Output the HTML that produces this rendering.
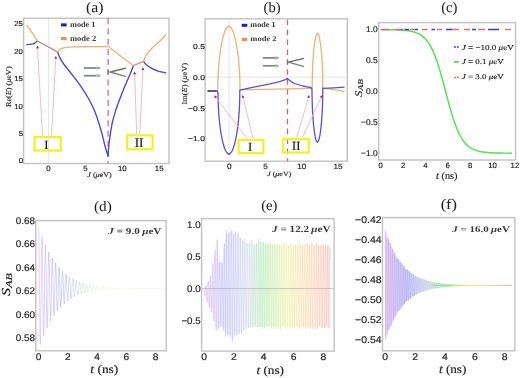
<!DOCTYPE html>
<html><head><meta charset="utf-8"><title>figure</title>
<style>html,body{margin:0;padding:0;background:#fff;width:520px;height:378px;overflow:hidden}svg{display:block}</style>
</head><body>
<svg width="520" height="378" viewBox="0 0 520 378" text-rendering="geometricPrecision"><rect width="520" height="378" fill="#ffffff"/><defs><linearGradient id="gd" gradientUnits="userSpaceOnUse" x1="38.6" y1="0" x2="164.38" y2="0"><stop offset="0.000" stop-color="#b878e0" stop-opacity="1"/><stop offset="0.174" stop-color="#7878f0" stop-opacity="1"/><stop offset="0.302" stop-color="#90a0c8" stop-opacity="0.85"/><stop offset="0.419" stop-color="#70d070" stop-opacity="0.6"/><stop offset="0.535" stop-color="#a0e060" stop-opacity="0.5"/><stop offset="0.651" stop-color="#e0e050" stop-opacity="0.5"/><stop offset="0.814" stop-color="#f0b060" stop-opacity="0.5"/><stop offset="1.000" stop-color="#f07070" stop-opacity="0.5"/></linearGradient><linearGradient id="ge" gradientUnits="userSpaceOnUse" x1="203.6" y1="0" x2="332.34" y2="0"><stop offset="0.000" stop-color="#b878e0" stop-opacity="1"/><stop offset="0.174" stop-color="#7878f0" stop-opacity="1"/><stop offset="0.337" stop-color="#a0b0d0" stop-opacity="1"/><stop offset="0.465" stop-color="#60d860" stop-opacity="1"/><stop offset="0.651" stop-color="#e0e050" stop-opacity="1"/><stop offset="0.814" stop-color="#f0b060" stop-opacity="1"/><stop offset="1.000" stop-color="#f07070" stop-opacity="1"/></linearGradient><linearGradient id="gf" gradientUnits="userSpaceOnUse" x1="384.9" y1="0" x2="512.78" y2="0"><stop offset="0.000" stop-color="#b878e0" stop-opacity="1"/><stop offset="0.174" stop-color="#7878f0" stop-opacity="1"/><stop offset="0.337" stop-color="#a0b0d0" stop-opacity="1"/><stop offset="0.465" stop-color="#60d860" stop-opacity="1"/><stop offset="0.651" stop-color="#e0e050" stop-opacity="1"/><stop offset="0.814" stop-color="#f0b060" stop-opacity="1"/><stop offset="1.000" stop-color="#f07070" stop-opacity="1"/></linearGradient><linearGradient id="arrB" x1="0" y1="0" x2="1" y2="0"><stop offset="0" stop-color="#7c7e7e"/><stop offset="0.75" stop-color="#808a90"/><stop offset="1" stop-color="#98aec0"/></linearGradient><linearGradient id="arrG" x1="0" y1="0" x2="1" y2="0"><stop offset="0" stop-color="#7c7e7e"/><stop offset="0.75" stop-color="#828c82"/><stop offset="1" stop-color="#9cba9c"/></linearGradient></defs><line x1="48.4" y1="18.3" x2="48.4" y2="163.5" stroke="#dde5ee" stroke-width="1"/><rect x="23.6" y="18.3" width="145.4" height="145.2" fill="none" stroke="#c2c2c2" stroke-width="1.4"/><line x1="108.1" y1="18.3" x2="108.1" y2="163.5" stroke="#dc4c6a" stroke-width="1.3" stroke-dasharray="6,4.2" stroke-opacity="0.85"/><path d="M26.3,44.6 C26.92,44.57 28.88,44.53 30,44.4 C31.12,44.27 32.08,44.1 33,43.8 C33.92,43.5 34.77,43.07 35.5,42.6 C36.23,42.13 37.08,41.27 37.4,41" fill="none" stroke="#4646d4" stroke-width="1.35" stroke-linejoin="round"/><path d="M57.7,52 C57.85,52.47 58.17,53.73 58.6,54.8 C59.03,55.87 59.45,56.87 60.3,58.4 C61.15,59.93 61.67,61.2 63.7,64 C65.73,66.8 69.58,71.4 72.5,75.2 C75.42,79 78.53,82.92 81.2,86.8 C83.87,90.68 86.32,94.58 88.5,98.5 C90.68,102.42 92.62,106.35 94.3,110.3 C95.98,114.25 97.3,118.22 98.6,122.2 C99.9,126.18 101.03,130.23 102.1,134.2 C103.17,138.17 104.15,142.82 105,146 C105.85,149.18 106.7,151.57 107.2,153.3 C107.7,155.03 107.87,155.88 108,156.4" fill="none" stroke="#4646d4" stroke-width="1.35" stroke-linejoin="round"/><path d="M108,156.4 C108.13,154.67 108.42,149.67 108.8,146 C109.18,142.33 109.72,138.28 110.3,134.4 C110.88,130.52 111.43,126.58 112.3,122.7 C113.17,118.82 114.28,114.97 115.5,111.1 C116.72,107.23 118.15,103.38 119.6,99.5 C121.05,95.62 122.6,91.68 124.2,87.8 C125.8,83.92 127.97,79.07 129.2,76.2 C130.43,73.33 130.92,72.35 131.6,70.6 C132.28,68.85 133.02,66.52 133.3,65.7" fill="none" stroke="#4646d4" stroke-width="1.35" stroke-linejoin="round"/><path d="M143.6,61.4 C144.03,61.95 144.77,63.48 146.2,64.7 C147.63,65.92 150.1,67.6 152.2,68.7 C154.3,69.8 156.47,70.6 158.8,71.3 C161.13,72 164.97,72.63 166.2,72.9" fill="none" stroke="#4646d4" stroke-width="1.35" stroke-linejoin="round"/><path d="M26.3,25 C26.83,25.67 28.38,27.47 29.5,29 C30.62,30.53 31.68,32.2 33,34.2 C34.32,36.2 36.67,39.87 37.4,41" fill="none" stroke="#f0b070" stroke-width="1.35" stroke-linejoin="round"/><path d="M57.7,52 C57.92,51.68 58.45,50.65 59,50.1 C59.55,49.55 60.25,49.07 61,48.7 C61.75,48.33 62.58,48.12 63.5,47.9 C64.42,47.68 64.58,47.57 66.5,47.4 C68.42,47.23 71.08,47.02 75,46.9 C78.92,46.78 84.45,46.77 90,46.7 C95.55,46.63 105.25,46.53 108.3,46.5" fill="none" stroke="#f0b070" stroke-width="1.35" stroke-linejoin="round"/><path d="M108.3,46.5 L133.3,65.7" fill="none" stroke="#f0b070" stroke-width="1.35" stroke-linejoin="round"/><path d="M143.6,61.4 C143.93,60.55 144.72,57.93 145.6,56.3 C146.48,54.67 147.37,53.4 148.9,51.6 C150.43,49.8 152.7,47.52 154.8,45.5 C156.9,43.48 159.6,41.37 161.5,39.5 C163.4,37.63 165.42,35.17 166.2,34.3" fill="none" stroke="#f0b070" stroke-width="1.35" stroke-linejoin="round"/><path d="M37.4,41 L57.7,52" stroke="#a88c74" stroke-width="1.4" fill="none"/><path d="M133.3,65.7 L143.6,61.4" stroke="#cc9a70" stroke-width="1.4" fill="none"/><rect x="61" y="23.4" width="5.6" height="3.0" fill="#1c1cc8"/><rect x="61" y="37.1" width="5.6" height="3.0" fill="#e8904c"/><rect x="83.8" y="67.15" width="12.8" height="1.7" fill="#7e8282"/><path d="M96.4,66.5 L100,66.9 L100.8,68 L100,69.1 L96.4,69.5 Z" fill="#98acbc"/><rect x="83.8" y="74.85" width="12.8" height="1.7" fill="#7e8282"/><path d="M96.4,74.2 L100,74.6 L100.8,75.7 L100,76.8 L96.4,77.2 Z" fill="#a4bca4"/><line x1="110.2" y1="72" x2="125.4" y2="68.3" stroke="#6e7272" stroke-width="1.4" stroke-linecap="round"/><line x1="110.2" y1="72" x2="125.4" y2="76.3" stroke="#748474" stroke-width="1.4" stroke-linecap="round"/><line x1="108.1" y1="69.8" x2="108.1" y2="74.5" stroke="#806868" stroke-width="1.2"/><line x1="37.56" y1="48.4" x2="42.5" y2="135.8" stroke="#f2b4bc" stroke-width="0.9"/><path d="M37.4,45.6 L39.06,48.31 L36.06,48.48 Z" fill="#c81830"/><line x1="55.74" y1="58.7" x2="51.4" y2="135.8" stroke="#f2b4bc" stroke-width="0.9"/><path d="M55.9,55.9 L57.24,58.78 L54.24,58.61 Z" fill="#c81830"/><line x1="134.69" y1="74.4" x2="136.7" y2="134.2" stroke="#f2b4bc" stroke-width="0.9"/><path d="M134.6,71.6 L136.19,74.35 L133.19,74.45 Z" fill="#c81830"/><line x1="142.96" y1="70" x2="139.7" y2="134.2" stroke="#f2b4bc" stroke-width="0.9"/><path d="M143.1,67.2 L144.46,70.07 L141.46,69.92 Z" fill="#c81830"/><rect x="34.4" y="136.9" width="26.3" height="13.7" fill="none" stroke="#eef41e" stroke-width="2.2"/><rect x="127" y="135.3" width="25.6" height="13.9" fill="none" stroke="#eef41e" stroke-width="2.2"/><line x1="229.1" y1="18.8" x2="229.1" y2="161.2" stroke="#e8e2ee" stroke-width="1"/><line x1="205.1" y1="77.2" x2="347.3" y2="77.2" stroke="#e4e4e4" stroke-width="1"/><rect x="205.1" y="18.8" width="142.2" height="142.4" fill="none" stroke="#c2c2c2" stroke-width="1.4"/><line x1="287.5" y1="18.8" x2="287.5" y2="161.2" stroke="#c85470" stroke-width="1.3" stroke-dasharray="5.6,4.3" stroke-dashoffset="9" stroke-opacity="0.92"/><path d="M207.6,90.6 L217.7,90.4 L217.81,88.15 L217.83,86.01 L217.86,83.86 L217.91,81.71 L217.97,79.57 L218.05,77.42 L218.14,75.27 L218.24,73.13 L218.36,70.98 L218.5,68.83 L218.65,66.69 L218.81,64.54 L219,62.39 L219.2,60.25 L219.42,58.1 L219.67,55.95 L219.93,53.81 L220.22,51.66 L220.53,49.51 L220.87,47.37 L221.24,45.22 L221.64,43.07 L222.08,40.93 L222.57,38.78 L223.12,36.63 L223.73,34.49 L224.45,32.34 L225.3,30.19 L226.42,28.05 L228.9,25.9 L231.38,28.05 L232.5,30.19 L233.35,32.34 L234.07,34.49 L234.68,36.63 L235.23,38.78 L235.72,40.93 L236.16,43.07 L236.56,45.22 L236.93,47.37 L237.27,49.51 L237.58,51.66 L237.87,53.81 L238.13,55.95 L238.38,58.1 L238.6,60.25 L238.8,62.39 L238.99,64.54 L239.15,66.69 L239.3,68.83 L239.44,70.98 L239.56,73.13 L239.66,75.27 L239.75,77.42 L239.83,79.57 L239.89,81.71 L239.94,83.86 L239.97,86.01 L239.99,88.15 L240,90.3 L240,89.9 L312.2,88.3 L312.2,86.46 L312.21,84.63 L312.23,82.79 L312.25,80.95 L312.28,79.12 L312.32,77.28 L312.36,75.44 L312.41,73.61 L312.47,71.77 L312.53,69.93 L312.6,68.1 L312.68,66.26 L312.77,64.42 L312.87,62.59 L312.98,60.75 L313.09,58.91 L313.22,57.08 L313.35,55.24 L313.5,53.4 L313.66,51.57 L313.84,49.73 L314.03,47.89 L314.24,46.06 L314.48,44.22 L314.74,42.38 L315.03,40.55 L315.37,38.71 L315.78,36.87 L316.32,35.04 L317.5,33.2 L318.68,35.04 L319.22,36.87 L319.63,38.71 L319.97,40.55 L320.26,42.38 L320.52,44.22 L320.76,46.06 L320.97,47.89 L321.16,49.73 L321.34,51.57 L321.5,53.4 L321.65,55.24 L321.78,57.08 L321.91,58.91 L322.02,60.75 L322.13,62.59 L322.23,64.42 L322.32,66.26 L322.4,68.1 L322.47,69.93 L322.53,71.77 L322.59,73.61 L322.64,75.44 L322.68,77.28 L322.72,79.12 L322.75,80.95 L322.77,82.79 L322.79,84.63 L322.8,86.46 L322.8,88.3 L322.8,88.3 L330,89.2 L337,90.2 L344.5,91.4" fill="none" stroke="#f0b070" stroke-width="1.3" stroke-linejoin="round"/><path d="M207.6,91 L217.2,91.1 L218.01,93.21 L218.03,95.32 L218.06,97.43 L218.11,99.54 L218.17,101.65 L218.24,103.76 L218.33,105.87 L218.43,107.98 L218.55,110.09 L218.68,112.2 L218.83,114.31 L219,116.42 L219.18,118.53 L219.38,120.64 L219.6,122.75 L219.83,124.86 L220.09,126.97 L220.37,129.08 L220.68,131.19 L221.01,133.3 L221.37,135.41 L221.77,137.52 L222.21,139.63 L222.69,141.74 L223.22,143.85 L223.83,145.96 L224.53,148.07 L225.37,150.18 L226.46,152.29 L228.9,154.4 L231.34,152.29 L232.43,150.18 L233.27,148.07 L233.97,145.96 L234.58,143.85 L235.11,141.74 L235.59,139.63 L236.03,137.52 L236.43,135.41 L236.79,133.3 L237.12,131.19 L237.43,129.08 L237.71,126.97 L237.97,124.86 L238.2,122.75 L238.42,120.64 L238.62,118.53 L238.8,116.42 L238.97,114.31 L239.12,112.2 L239.25,110.09 L239.37,107.98 L239.47,105.87 L239.56,103.76 L239.63,101.65 L239.69,99.54 L239.74,97.43 L239.77,95.32 L239.79,93.21 L239.8,91.1 L240,90.2 L250,87.9 L260,85.8 L270,83.9 L278.8,81.8 L284,80.2 L286.4,79.2 L287.5,78.4 L288.6,79.6 L291,81.6 L294.7,83.5 L302.6,86 L311.3,87.6 L312,89.62 L312.01,91.44 L312.03,93.26 L312.05,95.08 L312.08,96.9 L312.12,98.72 L312.16,100.54 L312.21,102.36 L312.27,104.18 L312.34,106 L312.41,107.82 L312.49,109.64 L312.58,111.46 L312.68,113.28 L312.79,115.1 L312.91,116.92 L313.04,118.74 L313.18,120.56 L313.33,122.38 L313.49,124.2 L313.67,126.02 L313.87,127.84 L314.08,129.66 L314.32,131.48 L314.59,133.3 L314.89,135.12 L315.23,136.94 L315.65,138.76 L316.19,140.58 L317.4,142.4 L318.61,140.58 L319.15,138.76 L319.57,136.94 L319.91,135.12 L320.21,133.3 L320.48,131.48 L320.72,129.66 L320.93,127.84 L321.13,126.02 L321.31,124.2 L321.47,122.38 L321.62,120.56 L321.76,118.74 L321.89,116.92 L322.01,115.1 L322.12,113.28 L322.22,111.46 L322.31,109.64 L322.39,107.82 L322.46,106 L322.53,104.18 L322.59,102.36 L322.64,100.54 L322.68,98.72 L322.72,96.9 L322.75,95.08 L322.77,93.26 L322.79,91.44 L322.8,89.62 L322.8,87.8 L322.8,88.4 L334,87.8 L344.5,87.2" fill="none" stroke="#5252dc" stroke-width="1.3" stroke-linejoin="round"/><path d="M207.6,91 L216.6,91" stroke="#50507a" stroke-width="1.6"/><rect x="241.7" y="23.8" width="5.6" height="3.0" fill="#1c1cc8"/><rect x="241.7" y="37.9" width="5.6" height="3.0" fill="#e8904c"/><rect x="262.9" y="57.05" width="11.9" height="1.7" fill="#7e8282"/><path d="M274.6,56.4 L278.2,56.8 L279,57.9 L278.2,59 L274.6,59.4 Z" fill="#98acbc"/><rect x="262.9" y="64.95" width="11.9" height="1.7" fill="#7e8282"/><path d="M274.6,64.3 L278.2,64.7 L279,65.8 L278.2,66.9 L274.6,67.3 Z" fill="#a4bca4"/><line x1="288.3" y1="62.1" x2="303.4" y2="58.5" stroke="#6e7272" stroke-width="1.4" stroke-linecap="round"/><line x1="288.3" y1="62.1" x2="303.4" y2="66.4" stroke="#748474" stroke-width="1.4" stroke-linecap="round"/><line x1="287.5" y1="60.6" x2="287.5" y2="63.7" stroke="#806868" stroke-width="1.2"/><line x1="215.99" y1="97.54" x2="247.1" y2="138.8" stroke="#f2b4bc" stroke-width="0.9"/><path d="M214.3,95.3 L217.18,96.63 L214.79,98.44 Z" fill="#c81830"/><line x1="243.16" y1="97.72" x2="253.1" y2="138.8" stroke="#f2b4bc" stroke-width="0.9"/><path d="M242.5,95 L244.62,97.37 L241.7,98.07 Z" fill="#c81830"/><line x1="308.42" y1="97.69" x2="296.7" y2="137.8" stroke="#f2b4bc" stroke-width="0.9"/><path d="M309.2,95 L309.85,98.11 L306.98,97.27 Z" fill="#c81830"/><line x1="321.11" y1="97.53" x2="302.2" y2="137.8" stroke="#f2b4bc" stroke-width="0.9"/><path d="M322.3,95 L322.47,98.17 L319.75,96.9 Z" fill="#c81830"/><rect x="238.6" y="139.9" width="24.8" height="13.3" fill="none" stroke="#eef41e" stroke-width="2.2"/><rect x="283" y="138.9" width="25.7" height="13.7" fill="none" stroke="#eef41e" stroke-width="2.2"/><rect x="378.7" y="22.6" width="136.9" height="137.4" fill="none" stroke="#c2c2c2" stroke-width="1.4"/><path d="M380.6,29.64 L381.71,29.65 L382.81,29.65 L383.92,29.66 L385.02,29.67 L386.13,29.68 L387.23,29.69 L388.34,29.7 L389.45,29.72 L390.55,29.74 L391.66,29.76 L392.76,29.78 L393.87,29.81 L394.97,29.83 L396.08,29.87 L397.18,29.91 L398.29,29.95 L399.4,30.01 L400.5,30.06 L401.61,30.13 L402.71,30.21 L403.82,30.3 L404.92,30.4 L406.03,30.52 L407.14,30.65 L408.24,30.8 L409.35,30.98 L410.45,31.18 L411.56,31.41 L412.66,31.67 L413.77,31.96 L414.87,32.3 L415.98,32.69 L417.09,33.13 L418.19,33.63 L419.3,34.19 L420.4,34.84 L421.51,35.57 L422.61,36.4 L423.72,37.33 L424.83,38.38 L425.93,39.57 L427.04,40.89 L428.14,42.38 L429.25,44.03 L430.35,45.87 L431.46,47.9 L432.56,50.14 L433.67,52.59 L434.78,55.26 L435.88,58.15 L436.99,61.26 L438.09,64.59 L439.2,68.12 L440.3,71.84 L441.41,75.72 L442.52,79.73 L443.62,83.86 L444.73,88.05 L445.83,92.27 L446.94,96.49 L448.04,100.65 L449.15,104.74 L450.25,108.7 L451.36,112.52 L452.47,116.16 L453.57,119.61 L454.68,122.85 L455.78,125.87 L456.89,128.67 L457.99,131.25 L459.1,133.61 L460.21,135.76 L461.31,137.71 L462.42,139.47 L463.52,141.05 L464.63,142.47 L465.73,143.74 L466.84,144.87 L467.94,145.87 L469.05,146.76 L470.16,147.54 L471.26,148.24 L472.37,148.85 L473.47,149.39 L474.58,149.86 L475.68,150.28 L476.79,150.64 L477.9,150.96 L479,151.25 L480.11,151.49 L481.21,151.71 L482.32,151.9 L483.42,152.06 L484.53,152.21 L485.63,152.33 L486.74,152.44 L487.85,152.54 L488.95,152.62 L490.06,152.7 L491.16,152.76 L492.27,152.82 L493.37,152.87 L494.48,152.91 L495.59,152.95 L496.69,152.98 L497.8,153.01 L498.9,153.03 L500.01,153.05 L501.11,153.07 L502.22,153.09 L503.32,153.1 L504.43,153.11 L505.54,153.13 L506.64,153.14 L507.75,153.14 L508.85,153.15 L509.96,153.16 L511.06,153.16 L512.17,153.17" fill="none" stroke="#4ce44c" stroke-width="1.45" stroke-linejoin="round"/><path d="M381,29.6 H389 M395,29.6 H401 M410,29.6 H415 M422,29.6 H427.5 M437,29.6 H442 M452,29.6 H459 M464,29.6 H470 M478,29.6 H485 M505,29.6 H511" stroke="#e07070" stroke-width="1.5" fill="none"/><path d="M401,29.6 H402.5 M404.5,29.6 H409 M415,29.6 H418 M431.5,29.6 H435 M446,29.6 H452 M472,29.6 H476 M488,29.6 H499" stroke="#3a3ad0" stroke-width="1.5" fill="none"/><circle cx="455.0" cy="47.0" r="0.9" fill="#3030c0"/><circle cx="457.8" cy="47.0" r="0.9" fill="#3030c0"/><line x1="454" y1="61.9" x2="458.8" y2="61.9" stroke="#40d040" stroke-width="1.6"/><circle cx="455.0" cy="77.4" r="0.9" fill="#e06060"/><circle cx="457.8" cy="77.4" r="0.9" fill="#e06060"/><path d="M38.6,226.91 L38.77,230.41 L38.94,239.47 L39.11,253.11 L39.28,269.93 L39.46,288.24 L39.63,306.23 L39.8,322.17 L39.97,334.55 L40.14,342.21 L40.31,344.5 L40.48,341.28 L40.65,332.97 L40.82,320.46 L41,305.03 L41.17,288.24 L41.34,271.73 L41.51,257.11 L41.68,245.77 L41.85,238.75 L42.02,236.65 L42.19,239.6 L42.36,247.22 L42.54,258.7 L42.71,272.84 L42.88,288.24 L43.05,303.36 L43.22,316.76 L43.39,327.15 L43.56,333.58 L43.73,335.5 L43.9,332.79 L44.08,325.81 L44.25,315.29 L44.42,302.34 L44.59,288.24 L44.76,274.38 L44.93,262.11 L45.1,252.6 L45.27,246.71 L45.44,244.96 L45.62,247.44 L45.79,253.84 L45.96,263.47 L46.13,275.33 L46.3,288.24 L46.47,300.92 L46.64,312.14 L46.81,320.85 L46.98,326.23 L47.16,327.83 L47.33,325.56 L47.5,319.7 L47.67,310.9 L47.84,300.04 L48.01,288.24 L48.18,276.64 L48.35,266.37 L48.52,258.41 L48.7,253.49 L48.87,252.03 L49.04,254.11 L49.21,259.47 L49.38,267.52 L49.55,277.44 L49.72,288.24 L49.89,298.84 L50.06,308.22 L50.24,315.49 L50.41,319.99 L50.58,321.32 L50.75,319.42 L50.92,314.52 L51.09,307.16 L51.26,298.1 L51.43,288.24 L51.6,278.55 L51.78,269.99 L51.95,263.35 L52.12,259.24 L52.29,258.03 L52.46,259.77 L52.63,264.24 L52.8,270.96 L52.97,279.24 L53.14,288.24 L53.32,297.07 L53.49,304.89 L53.66,310.95 L53.83,314.69 L54,315.8 L54.17,314.21 L54.34,310.13 L54.51,304 L54.68,296.45 L54.86,288.24 L55.03,280.18 L55.2,273.05 L55.37,267.52 L55.54,264.11 L55.71,263.1 L55.88,264.55 L56.05,268.27 L56.22,273.87 L56.4,280.75 L56.57,288.24 L56.74,295.58 L56.91,302.08 L57.08,307.12 L57.25,310.22 L57.42,311.14 L57.59,309.82 L57.76,306.42 L57.94,301.33 L58.11,295.05 L58.28,288.24 L58.45,281.54 L58.62,275.63 L58.79,271.04 L58.96,268.21 L59.13,267.38 L59.3,268.58 L59.48,271.68 L59.65,276.32 L59.82,282.03 L59.99,288.24 L60.16,294.33 L60.33,299.71 L60.5,303.88 L60.67,306.46 L60.84,307.22 L61.02,306.12 L61.19,303.3 L61.36,299.08 L61.53,293.88 L61.7,288.24 L61.87,282.7 L62.04,277.8 L62.21,274 L62.38,271.66 L62.56,270.98 L62.73,271.98 L62.9,274.54 L63.07,278.38 L63.24,283.1 L63.41,288.24 L63.58,293.27 L63.75,297.72 L63.92,301.17 L64.1,303.3 L64.27,303.92 L64.44,303.01 L64.61,300.68 L64.78,297.19 L64.95,292.9 L65.12,288.24 L65.29,283.66 L65.46,279.62 L65.64,276.49 L65.81,274.56 L65.98,273.99 L66.15,274.82 L66.32,276.93 L66.49,280.1 L66.66,284 L66.83,288.24 L67,292.39 L67.18,296.06 L67.35,298.9 L67.52,300.65 L67.69,301.16 L67.86,300.41 L68.03,298.49 L68.2,295.62 L68.37,292.08 L68.54,288.24 L68.72,284.47 L68.89,281.14 L69.06,278.56 L69.23,276.98 L69.4,276.51 L69.57,277.2 L69.74,278.94 L69.91,281.55 L70.08,284.75 L70.26,288.24 L70.43,291.65 L70.6,294.67 L70.77,297 L70.94,298.44 L71.11,298.86 L71.28,298.24 L71.45,296.66 L71.62,294.3 L71.8,291.39 L71.97,288.24 L72.14,285.14 L72.31,282.41 L72.48,280.3 L72.65,278.99 L72.82,278.61 L72.99,279.18 L73.16,280.61 L73.34,282.75 L73.51,285.38 L73.68,288.24 L73.85,291.04 L74.02,293.51 L74.19,295.42 L74.36,296.6 L74.53,296.94 L74.7,296.44 L74.88,295.14 L75.05,293.2 L75.22,290.82 L75.39,288.24 L75.56,285.7 L75.73,283.46 L75.9,281.73 L76.07,280.67 L76.24,280.36 L76.42,280.82 L76.59,281.99 L76.76,283.74 L76.93,285.9 L77.1,288.24 L77.27,290.53 L77.44,292.55 L77.61,294.11 L77.78,295.07 L77.96,295.35 L78.13,294.94 L78.3,293.88 L78.47,292.29 L78.64,290.35 L78.81,288.24 L78.98,286.17 L79.15,284.34 L79.32,282.93 L79.5,282.06 L79.67,281.81 L79.84,282.18 L80.01,283.14 L80.18,284.57 L80.35,286.33 L80.52,288.24 L80.69,290.1 L80.86,291.75 L81.04,293.03 L81.21,293.81 L81.38,294.04 L81.55,293.7 L81.72,292.83 L81.89,291.54 L82.06,289.96 L82.23,288.24 L82.4,286.55 L82.58,285.06 L82.75,283.91 L82.92,283.21 L83.09,283 L83.26,283.31 L83.43,284.09 L83.6,285.25 L83.77,286.68 L83.94,288.24 L84.12,289.76 L84.29,291.1 L84.46,292.13 L84.63,292.77 L84.8,292.95 L84.97,292.68 L85.14,291.97 L85.31,290.92 L85.48,289.63 L85.66,288.24 L85.83,286.87 L86,285.66 L86.17,284.73 L86.34,284.15 L86.51,283.99 L86.68,284.24 L86.85,284.87 L87.02,285.82 L87.2,286.98 L87.37,288.24 L87.54,289.47 L87.71,290.56 L87.88,291.4 L88.05,291.91 L88.22,292.06 L88.39,291.83 L88.56,291.26 L88.74,290.41 L88.91,289.37 L89.08,288.24 L89.25,287.13 L89.42,286.15 L89.59,285.39 L89.76,284.93 L89.93,284.8 L90.1,285 L90.28,285.51 L90.45,286.28 L90.62,287.22 L90.79,288.24 L90.96,289.23 L91.13,290.11 L91.3,290.79 L91.47,291.21 L91.64,291.33 L91.82,291.14 L91.99,290.68 L92.16,290 L92.33,289.15 L92.5,288.24 L92.67,287.34 L92.84,286.55 L93.01,285.94 L93.18,285.57 L93.36,285.46 L93.53,285.62 L93.7,286.04 L93.87,286.66 L94.04,287.41 L94.21,288.24 L94.38,289.04 L94.55,289.75 L94.72,290.3 L94.9,290.63 L95.07,290.73 L95.24,290.58 L95.41,290.21 L95.58,289.65 L95.75,288.97 L95.92,288.24 L96.09,287.51 L96.26,286.88 L96.44,286.39 L96.61,286.09 L96.78,286 L96.95,286.13 L97.12,286.47 L97.29,286.96 L97.46,287.57 L97.63,288.24 L97.8,288.88 L97.98,289.45 L98.15,289.89 L98.32,290.16 L98.49,290.24 L98.66,290.12 L98.83,289.82 L99,289.38 L99.17,288.83 L99.34,288.24 L99.52,287.66 L99.69,287.15 L99.86,286.75 L100.03,286.51 L100.2,286.44 L100.37,286.55 L100.54,286.82 L100.71,287.22 L100.88,287.71 L101.06,288.24 L101.23,288.76 L101.4,289.21 L101.57,289.57 L101.74,289.78 L101.91,289.84 L102.08,289.75 L102.25,289.51 L102.42,289.15 L102.6,288.71 L102.77,288.24 L102.94,287.77 L103.11,287.36 L103.28,287.05 L103.45,286.85 L103.62,286.8 L103.79,286.88 L103.96,287.1 L104.14,287.42 L104.31,287.81 L104.48,288.24 L104.65,288.65 L104.82,289.02 L104.99,289.3 L105.16,289.47 L105.33,289.52 L105.5,289.44 L105.68,289.25 L105.85,288.97 L106.02,288.62 L106.19,288.24 L106.36,287.86 L106.53,287.54 L106.7,287.29 L106.87,287.13 L107.04,287.09 L107.22,287.16 L107.39,287.33 L107.56,287.58 L107.73,287.9 L107.9,288.24 L108.07,288.57 L108.24,288.86 L108.41,289.08 L108.59,289.22 L108.76,289.26 L108.93,289.2 L109.1,289.05 L109.27,288.82 L109.44,288.54 L109.61,288.24 L109.78,287.94 L109.95,287.68 L110.13,287.48 L110.3,287.36 L110.47,287.32 L110.64,287.38 L110.81,287.51 L110.98,287.72 L111.15,287.97 L111.32,288.24 L111.49,288.5 L111.67,288.73 L111.84,288.91 L112.01,289.02 L112.18,289.05 L112.35,289 L112.52,288.88 L112.69,288.7 L112.86,288.48 L113.03,288.24 L113.21,288 L113.38,287.79 L113.55,287.63 L113.72,287.54 L113.89,287.51 L114.06,287.55 L114.23,287.66 L114.4,287.82 L114.57,288.02 L114.75,288.24 L114.92,288.45 L115.09,288.63 L115.26,288.77 L115.43,288.86 L115.6,288.88 L115.77,288.84 L115.94,288.75 L116.11,288.6 L116.29,288.43 L116.46,288.24 L116.63,288.05 L116.8,287.89 L116.97,287.76 L117.14,287.68 L117.31,287.66 L117.48,287.7 L117.65,287.78 L117.83,287.91 L118,288.07 L118.17,288.24 L118.34,288.4 L118.51,288.55 L118.68,288.66 L118.85,288.73 L119.02,288.75 L119.19,288.72 L119.37,288.64 L119.54,288.53 L119.71,288.39 L119.88,288.24 L120.05,288.09 L120.22,287.96 L120.39,287.86 L120.56,287.8 L120.73,287.78 L120.91,287.81 L121.08,287.88 L121.25,287.98 L121.42,288.1 L121.59,288.24 L121.76,288.37 L121.93,288.48 L122.1,288.57 L122.27,288.62 L122.45,288.64 L122.62,288.62 L122.79,288.55 L122.96,288.46 L123.13,288.35 L123.3,288.24 L123.47,288.12 L123.64,288.02 L123.81,287.94 L123.99,287.89 L124.16,287.88 L124.33,287.9 L124.5,287.95 L124.67,288.03 L124.84,288.13 L125.01,288.24 L125.18,288.34 L125.35,288.43 L125.53,288.5 L125.7,288.54 L125.87,288.55 L126.04,288.53 L126.21,288.49 L126.38,288.42 L126.55,288.33 L126.72,288.24 L126.89,288.14 L127.07,288.06 L127.24,288 L127.41,287.97 L127.58,287.95 L127.75,287.97 L127.92,288.01 L128.09,288.08 L128.26,288.15 L128.43,288.24 L128.61,288.32 L128.78,288.39 L128.95,288.44 L129.12,288.48 L129.29,288.48 L129.46,288.47 L129.63,288.43 L129.8,288.38 L129.97,288.31 L130.15,288.24 L130.32,288.16 L130.49,288.1 L130.66,288.05 L130.83,288.02 L131,288.02 L131.17,288.03 L131.34,288.06 L131.51,288.11 L131.69,288.17 L131.86,288.24 L132.03,288.3 L132.2,288.35 L132.37,288.4 L132.54,288.42 L132.71,288.43 L132.88,288.42 L133.05,288.39 L133.23,288.35 L133.4,288.29 L133.57,288.24 L133.74,288.18 L133.91,288.13 L134.08,288.09 L134.25,288.07 L134.42,288.06 L134.59,288.07 L134.77,288.1 L134.94,288.14 L135.11,288.19 L135.28,288.24 L135.45,288.29 L135.62,288.33 L135.79,288.36 L135.96,288.38 L136.13,288.39 L136.31,288.38 L136.48,288.36 L136.65,288.32 L136.82,288.28 L136.99,288.24 L137.16,288.19 L137.33,288.15 L137.5,288.12 L137.67,288.11 L137.85,288.1 L138.02,288.11 L138.19,288.13 L138.36,288.16 L138.53,288.2 L138.7,288.24 L138.87,288.27 L139.04,288.31 L139.21,288.33 L139.39,288.35 L139.56,288.35 L139.73,288.35 L139.9,288.33 L140.07,288.3 L140.24,288.27 L140.41,288.24 L140.58,288.2 L140.75,288.17 L140.93,288.15 L141.1,288.14 L141.27,288.13 L141.44,288.14 L141.61,288.15 L141.78,288.18 L141.95,288.21 L142.12,288.24 L142.29,288.27 L142.47,288.29 L142.64,288.31 L142.81,288.32 L142.98,288.33 L143.15,288.32 L143.32,288.31 L143.49,288.29 L143.66,288.26 L143.83,288.24 L144.01,288.21 L144.18,288.19 L144.35,288.17 L144.52,288.16 L144.69,288.16 L144.86,288.16 L145.03,288.17 L145.2,288.19 L145.37,288.21 L145.55,288.24 L145.72,288.26 L145.89,288.28 L146.06,288.29 L146.23,288.3 L146.4,288.31 L146.57,288.3 L146.74,288.29 L146.91,288.28 L147.09,288.26 L147.26,288.24 L147.43,288.22 L147.6,288.2 L147.77,288.18 L147.94,288.18 L148.11,288.17 L148.28,288.18 L148.45,288.19 L148.63,288.2 L148.8,288.22 L148.97,288.24 L149.14,288.25 L149.31,288.27 L149.48,288.28 L149.65,288.29 L149.82,288.29 L149.99,288.29 L150.17,288.28 L150.34,288.27 L150.51,288.25 L150.68,288.24 L150.85,288.22 L151.02,288.21 L151.19,288.2 L151.36,288.19 L151.53,288.19 L151.71,288.19 L151.88,288.2 L152.05,288.21 L152.22,288.22 L152.39,288.24 L152.56,288.25 L152.73,288.26 L152.9,288.27 L153.07,288.28 L153.25,288.28 L153.42,288.28 L153.59,288.27 L153.76,288.26 L153.93,288.25 L154.1,288.24 L154.27,288.22 L154.44,288.21 L154.61,288.21 L154.79,288.2 L154.96,288.2 L155.13,288.2 L155.3,288.21 L155.47,288.22 L155.64,288.23 L155.81,288.24 L155.98,288.25 L156.15,288.26 L156.33,288.26 L156.5,288.27 L156.67,288.27 L156.84,288.27 L157.01,288.26 L157.18,288.25 L157.35,288.25 L157.52,288.24 L157.69,288.23 L157.87,288.22 L158.04,288.21 L158.21,288.21 L158.38,288.21 L158.55,288.21 L158.72,288.21 L158.89,288.22 L159.06,288.23 L159.23,288.24 L159.41,288.24 L159.58,288.25 L159.75,288.26 L159.92,288.26 L160.09,288.26 L160.26,288.26 L160.43,288.26 L160.6,288.25 L160.77,288.24 L160.95,288.24 L161.12,288.23 L161.29,288.22 L161.46,288.22 L161.63,288.22 L161.8,288.21 L161.97,288.22 L162.14,288.22 L162.31,288.22 L162.49,288.23 L162.66,288.24 L162.83,288.24 L163,288.25 L163.17,288.25 L163.34,288.25 L163.51,288.25" fill="none" stroke="url(#gd)" stroke-width="0.65" stroke-opacity="0.5"/><rect x="35.8" y="220.6" width="130.3" height="130.2" fill="none" stroke="#c2c2c2" stroke-width="1.4"/><path d="M203.6,288.9 L204.1,288.15 L204.6,287.4 L205.1,286.66 L205.6,285.91 L206.1,285.14 L206.6,284.26 L207.1,283.38 L207.6,282.51 L208.1,281.63 L208.6,280.52 L209.1,279.41 L209.6,278.3 L210.1,277.19 L210.6,276.08 L211.1,274.64 L211.6,271.88 L212.1,269.12 L212.6,266.36 L213.1,263.46 L213.6,260.01 L214.1,256.56 L214.6,253.61 L215.1,250.78 L215.6,247.43 L216.1,242.05 L216.6,236.66 L217.1,236.24 L217.6,243.27 L218.1,250.3 L218.6,254.95 L219.1,258.02 L219.6,260.55 L220.1,260.91 L220.6,261.28 L221.1,261.65 L221.6,262.02 L222.1,261.44 L222.6,257.1 L223.1,252.75 L223.6,248.41 L224.1,245.03 L224.6,242.28 L225.1,239.54 L225.6,236.8 L226.1,234.06 L226.6,232.59 L227.1,233.03 L227.6,233.47 L228.1,233.92 L228.6,234.36 L229.1,234.5 L229.6,233.43 L230.1,232.37 L230.6,231.3 L231.1,230.23 L231.6,230.21 L232.1,230.45 L232.6,230.69 L233.1,230.94 L233.6,230.95 L234.1,230.82 L234.6,230.69 L235.1,230.56 L235.6,230.88 L236.1,231.87 L236.6,232.86 L237.1,233.85 L237.6,234.84 L238.1,235.69 L238.6,236.01 L239.1,236.32 L239.6,236.64 L240.1,236.95 L240.6,237.44 L241.1,237.97 L241.6,238.5 L242.1,239.03 L242.6,239.56 L243.1,240.05 L243.6,240.51 L244.1,240.97 L244.6,241.43 L245.1,241.89 L245.6,242.35 L246.1,242.81 L246.6,243.16 L247.1,243.1 L247.6,243.03 L248.1,242.97 L248.6,242.9 L249.1,242.83 L249.6,242.77 L250.1,242.7 L250.6,242.64 L251.1,242.91 L251.6,243.27 L252.1,243.63 L252.6,243.99 L253.1,244.35 L253.6,244.72 L254.1,245.08 L254.6,245.17 L255.1,244.87 L255.6,244.57 L256.1,244.27 L256.6,243.97 L257.1,243.67 L257.6,243.37 L258.1,243.07 L258.6,242.77 L259.1,242.47 L259.6,242.17 L260.1,241.87 L260.6,241.57 L261.1,241.27 L261.6,241.4 L262.1,241.82 L262.6,242.23 L263.1,242.65 L263.6,243.07 L264.1,243.48 L264.6,243.9 L265.1,244.32 L265.6,244.63 L266.1,244.54 L266.6,244.46 L267.1,244.37 L267.6,244.28 L268.1,244.19 L268.6,244.11 L269.1,244.02 L269.6,243.93 L270.1,243.85 L270.6,243.76 L271.1,243.67 L271.6,243.68 L272.1,243.75 L272.6,243.81 L273.1,243.88 L273.6,243.95 L274.1,244.02 L274.6,244.09 L275.1,244.16 L275.6,244.23 L276.1,244.3 L276.6,244.36 L277.1,244.43 L277.6,244.5 L278.1,244.57 L278.6,244.64 L279.1,244.71 L279.6,244.78 L280.1,244.83 L280.6,244.8 L281.1,244.78 L281.6,244.76 L282.1,244.74 L282.6,244.71 L283.1,244.69 L283.6,244.67 L284.1,244.64 L284.6,244.62 L285.1,244.6 L285.6,244.57 L286.1,244.55 L286.6,244.53 L287.1,244.51 L287.6,244.48 L288.1,244.46 L288.6,244.44 L289.1,244.41 L289.6,244.39 L290.1,244.38 L290.6,244.4 L291.1,244.42 L291.6,244.45 L292.1,244.47 L292.6,244.49 L293.1,244.51 L293.6,244.54 L294.1,244.56 L294.6,244.58 L295.1,244.61 L295.6,244.63 L296.1,244.65 L296.6,244.68 L297.1,244.7 L297.6,244.72 L298.1,244.74 L298.6,244.77 L299.1,244.79 L299.6,244.81 L300.1,244.83 L300.6,244.8 L301.1,244.78 L301.6,244.76 L302.1,244.74 L302.6,244.71 L303.1,244.69 L303.6,244.67 L304.1,244.64 L304.6,244.62 L305.1,244.6 L305.6,244.57 L306.1,244.55 L306.6,244.53 L307.1,244.51 L307.6,244.48 L308.1,244.46 L308.6,244.44 L309.1,244.41 L309.6,244.39 L310.1,244.38 L310.6,244.4 L311.1,244.42 L311.6,244.45 L312.1,244.47 L312.6,244.49 L313.1,244.51 L313.6,244.54 L314.1,244.56 L314.6,244.58 L315.1,244.61 L315.6,244.63 L316.1,244.65 L316.6,244.68 L317.1,244.7 L317.6,244.72 L318.1,244.74 L318.6,244.77 L319.1,244.79 L319.6,244.81 L320.1,244.84 L320.6,244.86 L321.1,244.88 L321.6,244.9 L322.1,244.92 L322.6,244.95 L323.1,244.97 L323.6,244.99 L324.1,245.01 L324.6,245.03 L325.1,245.06 L325.6,245.08 L326.1,245.1 L326.6,245.12 L327.1,245.14 L327.6,245.16 L328.1,245.19 L328.6,245.21 L329.1,245.23 L329.6,245.25 L330.1,245.27 L330.1,327.68 L329.6,327.68 L329.1,327.68 L328.6,327.68 L328.1,327.68 L327.6,327.68 L327.1,327.68 L326.6,327.68 L326.1,327.68 L325.6,327.68 L325.1,327.68 L324.6,327.68 L324.1,327.68 L323.6,327.68 L323.1,327.68 L322.6,327.68 L322.1,327.68 L321.6,327.68 L321.1,327.68 L320.6,327.68 L320.1,327.68 L319.6,327.68 L319.1,327.68 L318.6,327.68 L318.1,327.68 L317.6,327.68 L317.1,327.68 L316.6,327.68 L316.1,327.68 L315.6,327.68 L315.1,327.68 L314.6,327.68 L314.1,327.68 L313.6,327.68 L313.1,327.68 L312.6,327.68 L312.1,327.68 L311.6,327.68 L311.1,327.68 L310.6,327.68 L310.1,327.68 L309.6,327.68 L309.1,327.68 L308.6,327.68 L308.1,327.68 L307.6,327.68 L307.1,327.68 L306.6,327.68 L306.1,327.68 L305.6,327.68 L305.1,327.68 L304.6,327.68 L304.1,327.68 L303.6,327.68 L303.1,327.68 L302.6,327.68 L302.1,327.68 L301.6,327.68 L301.1,327.68 L300.6,327.68 L300.1,327.68 L299.6,327.68 L299.1,327.68 L298.6,327.68 L298.1,327.68 L297.6,327.68 L297.1,327.68 L296.6,327.68 L296.1,327.68 L295.6,327.68 L295.1,327.68 L294.6,327.68 L294.1,327.68 L293.6,327.68 L293.1,327.68 L292.6,327.68 L292.1,327.68 L291.6,327.68 L291.1,327.68 L290.6,327.68 L290.1,327.68 L289.6,327.68 L289.1,327.68 L288.6,327.68 L288.1,327.68 L287.6,327.68 L287.1,327.68 L286.6,327.68 L286.1,327.68 L285.6,327.68 L285.1,327.68 L284.6,327.68 L284.1,327.68 L283.6,327.68 L283.1,327.68 L282.6,327.68 L282.1,327.68 L281.6,327.68 L281.1,327.68 L280.6,327.68 L280.1,327.68 L279.6,327.63 L279.1,327.56 L278.6,327.5 L278.1,327.44 L277.6,327.37 L277.1,327.31 L276.6,327.24 L276.1,327.18 L275.6,327.11 L275.1,327.05 L274.6,326.98 L274.1,326.92 L273.6,326.85 L273.1,326.79 L272.6,326.72 L272.1,326.66 L271.6,326.59 L271.1,326.53 L270.6,326.46 L270.1,326.4 L269.6,326.34 L269.1,326.27 L268.6,326.21 L268.1,326.24 L267.6,326.31 L267.1,326.37 L266.6,326.43 L266.1,326.49 L265.6,326.56 L265.1,326.62 L264.6,326.68 L264.1,326.75 L263.6,326.81 L263.1,326.87 L262.6,326.93 L262.1,327 L261.6,327.06 L261.1,327.12 L260.6,327.12 L260.1,327.12 L259.6,327.12 L259.1,327.12 L258.6,327.12 L258.1,327.12 L257.6,327.12 L257.1,327.12 L256.6,327.12 L256.1,327.12 L255.6,327.12 L255.1,327.12 L254.6,327.12 L254.1,327.12 L253.6,327.15 L253.1,327.27 L252.6,327.4 L252.1,327.53 L251.6,327.65 L251.1,327.78 L250.6,327.9 L250.1,328.03 L249.6,328.15 L249.1,328.28 L248.6,328.4 L248.1,328.53 L247.6,328.66 L247.1,328.78 L246.6,328.91 L246.1,329.11 L245.6,329.44 L245.1,329.77 L244.6,330.1 L244.1,330.43 L243.6,330.76 L243.1,331.09 L242.6,331.42 L242.1,331.75 L241.6,332.08 L241.1,332.41 L240.6,332.74 L240.1,333.07 L239.6,333.4 L239.1,333.73 L238.6,334.19 L238.1,334.66 L237.6,335.12 L237.1,335.59 L236.6,336.05 L236.1,336.52 L235.6,336.98 L235.1,337.45 L234.6,337.91 L234.1,338.38 L233.6,338.84 L233.1,339.31 L232.6,339.77 L232.1,339.17 L231.6,338.31 L231.1,337.44 L230.6,336.57 L230.1,335.71 L229.6,334.84 L229.1,334.67 L228.6,334.49 L228.1,334.32 L227.6,334.14 L227.1,333.97 L226.6,333.8 L226.1,333.62 L225.6,333.45 L225.1,333.27 L224.6,332.57 L224.1,331.08 L223.6,329.59 L223.1,328.1 L222.6,326.6 L222.1,326.17 L221.6,326.44 L221.1,326.71 L220.6,326.99 L220.1,327.26 L219.6,327.53 L219.1,327.8 L218.6,328.08 L218.1,328.52 L217.6,329.22 L217.1,329.91 L216.6,330.61 L216.1,331.31 L215.6,330.28 L215.1,328.11 L214.6,325.94 L214.1,323.77 L213.6,321.24 L213.1,318.7 L212.6,316.16 L212.1,313.62 L211.6,311.41 L211.1,310.49 L210.6,309.57 L210.1,308.66 L209.6,307.74 L209.1,306.82 L208.6,305.91 L208.1,304.99 L207.6,303.67 L207.1,302.35 L206.6,301.04 L206.1,299.72 L205.6,298.4 L205.1,297.08 L204.6,295.77 L204.1,293.02 L203.6,289.92 Z" fill="url(#ge)" fill-opacity="0.12"/><path d="M203.6,288.9 L203.74,288.71 L203.89,288.61 L204.03,288.67 L204.18,288.9 L204.32,291.03 L204.46,293.47 L204.61,295.35 L204.75,296.26 L204.89,296.06 L205.04,294.65 L205.18,292.16 L205.33,288.9 L205.47,287.89 L205.61,286.89 L205.76,286.08 L205.9,285.28 L206.04,285.33 L206.19,285.98 L206.33,287.22 L206.48,288.9 L206.62,293.73 L206.76,298.1 L206.91,301.29 L207.05,302.7 L207.19,302.01 L207.34,299.21 L207.48,294.63 L207.63,288.9 L207.77,286.2 L207.91,283.73 L208.06,281.9 L208.2,281.4 L208.34,281.67 L208.49,283.14 L208.63,285.66 L208.78,288.9 L208.92,296.1 L209.06,302.4 L209.21,306.8 L209.35,308.56 L209.49,307.32 L209.64,303.2 L209.78,296.75 L209.93,288.9 L210.07,284.44 L210.21,280.43 L210.36,277.54 L210.5,275.74 L210.64,276.43 L210.79,279.12 L210.93,283.48 L211.08,288.9 L211.22,297.53 L211.36,305.04 L211.51,310.25 L211.65,312.28 L211.79,311.04 L211.94,306.38 L212.08,298.65 L212.23,288.9 L212.37,280.4 L212.51,272.6 L212.66,266.84 L212.8,263.28 L212.94,264.44 L213.09,269.47 L213.23,277.98 L213.38,288.9 L213.52,300.54 L213.66,310.91 L213.81,318.3 L213.95,321.41 L214.09,319.58 L214.24,312.81 L214.38,302.07 L214.53,288.9 L214.67,274.1 L214.81,260.94 L214.96,251.55 L215.1,250.14 L215.24,252.32 L215.39,260.32 L215.53,273.05 L215.68,288.9 L215.82,304.88 L215.96,318.6 L216.11,327.53 L216.25,330.51 L216.39,327.16 L216.54,318.04 L216.68,304.6 L216.83,288.9 L216.97,267.69 L217.11,251.16 L217.26,241.5 L217.4,239.92 L217.54,245.54 L217.69,257.16 L217.83,272.5 L217.98,288.9 L218.12,304.4 L218.26,317.39 L218.41,326.01 L218.55,328.99 L218.69,325.87 L218.84,317.14 L218.98,304.15 L219.13,288.9 L219.27,277.35 L219.41,268.19 L219.56,262.38 L219.7,262.15 L219.84,264.28 L219.99,270.13 L220.13,278.78 L220.28,288.9 L220.42,303.17 L220.56,315.21 L220.71,323.21 L220.85,325.96 L220.99,323.07 L221.14,315 L221.28,303 L221.43,288.9 L221.57,279.16 L221.71,270.98 L221.86,265.58 L222,262.96 L222.14,263.81 L222.29,268.83 L222.43,277.57 L222.58,288.9 L222.72,304.49 L222.86,318.04 L223.01,327.4 L223.15,331.03 L223.29,328.25 L223.44,319.34 L223.58,305.55 L223.73,288.9 L223.87,272.99 L224.01,258.96 L224.16,249.08 L224.3,243.44 L224.44,246.17 L224.59,255.63 L224.73,270.59 L224.88,288.9 L225.02,307.03 L225.16,322.43 L225.31,332.76 L225.45,336.43 L225.59,332.86 L225.74,322.58 L225.88,307.15 L226.03,288.9 L226.17,267.54 L226.31,248.87 L226.46,236.19 L226.6,230.44 L226.74,235.01 L226.89,247.75 L227.03,266.68 L227.18,288.9 L227.32,307.14 L227.46,322.64 L227.61,333.03 L227.75,336.72 L227.89,333.13 L228.04,322.79 L228.18,307.26 L228.33,288.9 L228.47,267.19 L228.61,248.87 L228.76,236.72 L228.9,231.52 L229.04,235.89 L229.19,248.1 L229.33,266.69 L229.48,288.9 L229.62,306.62 L229.76,321.82 L229.91,332.14 L230.05,335.96 L230.19,332.61 L230.34,322.53 L230.48,307.2 L230.63,288.9 L230.77,265.45 L230.91,245.35 L231.06,231.7 L231.2,230.45 L231.34,234.96 L231.49,247.66 L231.63,266.61 L231.78,288.9 L231.92,309.07 L232.06,326.35 L232.21,338.07 L232.35,342.38 L232.49,338.55 L232.64,326.82 L232.78,309.37 L232.93,288.9 L233.07,266.87 L233.21,248.25 L233.36,235.81 L233.5,234.18 L233.64,238.31 L233.79,250.15 L233.93,267.92 L234.08,288.9 L234.22,307.1 L234.36,322.43 L234.51,332.59 L234.65,336.06 L234.79,332.35 L234.94,322.07 L235.08,306.8 L235.23,288.9 L235.37,267.78 L235.51,250.02 L235.66,238.35 L235.8,232.5 L235.94,237.05 L236.09,249.42 L236.23,267.64 L236.38,288.9 L236.52,306.72 L236.66,321.74 L236.81,331.68 L236.95,335.07 L237.09,331.44 L237.24,321.36 L237.38,306.42 L237.53,288.9 L237.67,268.71 L237.81,251.78 L237.96,240.66 L238.1,231.8 L238.24,236.24 L238.39,248.66 L238.53,267.16 L238.68,288.9 L238.82,306.26 L238.96,320.88 L239.11,330.56 L239.25,333.89 L239.39,330.38 L239.54,320.58 L239.68,306.01 L239.83,288.9 L239.97,267.53 L240.11,249.48 L240.26,237.51 L240.4,238.92 L240.54,242.86 L240.69,253.77 L240.83,269.94 L240.98,288.9 L241.12,306.24 L241.26,320.88 L241.41,330.59 L241.55,333.93 L241.69,330.41 L241.84,320.6 L241.98,306.02 L242.13,288.9 L242.27,270.51 L242.41,255.02 L242.56,244.77 L242.7,239.49 L242.84,243.39 L242.99,254.16 L243.13,270.15 L243.28,288.9 L243.42,305.11 L243.56,318.78 L243.71,327.85 L243.85,330.97 L243.99,327.68 L244.14,318.51 L244.28,304.89 L244.43,288.9 L244.57,270.66 L244.71,255.29 L244.86,245.1 L245,238.19 L245.14,242.18 L245.29,253.25 L245.43,269.66 L245.58,288.9 L245.72,303.83 L245.86,316.42 L246.01,324.77 L246.15,327.63 L246.29,324.6 L246.44,316.2 L246.58,303.66 L246.73,288.9 L246.87,270.04 L247.01,254.04 L247.16,243.34 L247.3,245.89 L247.44,249.14 L247.59,258.46 L247.73,272.42 L247.88,288.9 L248.02,303.93 L248.16,316.65 L248.31,325.12 L248.45,328.07 L248.59,325.05 L248.74,316.55 L248.88,303.85 L249.03,288.9 L249.17,272.35 L249.31,258.31 L249.46,248.91 L249.6,241.56 L249.74,245.15 L249.89,255.4 L250.03,270.76 L250.18,288.9 L250.32,303.67 L250.46,316.17 L250.61,324.5 L250.75,327.4 L250.89,324.44 L251.04,316.07 L251.18,303.59 L251.33,288.9 L251.47,270.95 L251.61,255.8 L251.76,245.75 L251.9,239.89 L252.04,243.72 L252.19,254.4 L252.33,270.27 L252.48,288.9 L252.62,303.41 L252.76,315.69 L252.91,323.87 L253.05,326.71 L253.19,323.8 L253.34,315.59 L253.48,303.33 L253.63,288.9 L253.77,270.7 L253.91,255.35 L254.06,245.17 L254.2,246.47 L254.34,249.79 L254.49,258.96 L254.63,272.66 L254.78,288.9 L254.92,303.05 L255.06,315.05 L255.21,323.07 L255.35,325.88 L255.49,323.07 L255.64,315.05 L255.78,303.05 L255.93,288.9 L256.07,272.34 L256.21,258.25 L256.36,248.78 L256.5,243.21 L256.64,246.61 L256.79,256.47 L256.93,271.32 L257.08,288.9 L257.22,303.52 L257.36,315.92 L257.51,324.21 L257.65,327.11 L257.79,324.21 L257.94,315.92 L258.08,303.52 L258.23,288.9 L258.37,270.98 L258.51,255.73 L258.66,245.47 L258.8,239.27 L258.94,242.96 L259.09,253.68 L259.23,269.8 L259.38,288.9 L259.52,303.59 L259.66,316.04 L259.81,324.36 L259.95,327.28 L260.09,324.36 L260.24,316.04 L260.38,303.59 L260.53,288.9 L260.67,269.45 L260.81,252.89 L260.96,241.77 L261.1,243.41 L261.24,246.8 L261.39,256.7 L261.53,271.52 L261.68,288.9 L261.82,304.17 L261.96,317.1 L262.11,325.72 L262.25,328.74 L262.39,325.69 L262.54,317.04 L262.68,304.12 L262.83,288.9 L262.97,271.96 L263.11,257.67 L263.26,248.21 L263.4,242.24 L263.54,245.9 L263.69,256.08 L263.83,271.18 L263.98,288.9 L264.12,304.09 L264.26,316.96 L264.41,325.54 L264.55,328.54 L264.69,325.51 L264.84,316.9 L264.98,304.05 L265.13,288.9 L265.27,271.65 L265.41,257.11 L265.56,247.42 L265.7,242.44 L265.84,245.96 L265.99,256.01 L266.13,271.09 L266.28,288.9 L266.42,303.47 L266.56,315.8 L266.71,324.04 L266.85,326.91 L266.99,324 L267.14,315.75 L267.28,303.43 L267.43,288.9 L267.57,270.99 L267.71,255.79 L267.86,245.62 L268,242.58 L268.14,246.08 L268.29,256.11 L268.43,271.14 L268.58,288.9 L268.72,303.26 L268.86,315.45 L269.01,323.61 L269.15,326.49 L269.29,323.65 L269.44,315.51 L269.58,303.31 L269.73,288.9 L269.87,271.04 L270.01,255.89 L270.16,245.74 L270.3,243.54 L270.44,246.97 L270.59,256.79 L270.73,271.51 L270.88,288.9 L271.02,303.97 L271.16,316.76 L271.31,325.31 L271.45,328.33 L271.59,325.35 L271.74,316.81 L271.88,304.01 L272.03,288.9 L272.17,271.52 L272.31,256.8 L272.46,246.98 L272.6,245.35 L272.74,248.68 L272.89,258.13 L273.03,272.26 L273.18,288.9 L273.32,304.29 L273.46,317.35 L273.61,326.09 L273.75,329.18 L273.89,326.13 L274.04,317.41 L274.18,304.34 L274.33,288.9 L274.47,272.33 L274.61,258.29 L274.76,248.93 L274.9,243.71 L275.04,247.17 L275.19,256.97 L275.33,271.63 L275.48,288.9 L275.62,304.01 L275.76,316.84 L275.91,325.42 L276.05,328.45 L276.19,325.45 L276.34,316.89 L276.48,304.06 L276.63,288.9 L276.77,271.7 L276.91,257.14 L277.06,247.42 L277.2,244.83 L277.34,248.2 L277.49,257.76 L277.63,272.06 L277.78,288.9 L277.92,304.37 L278.06,317.49 L278.21,326.28 L278.35,329.38 L278.49,326.31 L278.64,317.55 L278.78,304.41 L278.93,288.9 L279.07,272.13 L279.21,257.93 L279.36,248.45 L279.5,244.44 L279.64,247.84 L279.79,257.49 L279.93,271.91 L280.08,288.9 L280.22,304.74 L280.36,318.17 L280.51,327.14 L280.65,330.3 L280.79,327.14 L280.94,318.17 L281.08,304.74 L281.23,288.9 L281.37,271.89 L281.51,257.46 L281.66,247.81 L281.8,245.17 L281.94,248.49 L282.09,257.97 L282.23,272.16 L282.38,288.9 L282.52,303.02 L282.66,314.99 L282.81,322.99 L282.95,325.8 L283.09,322.99 L283.24,314.99 L283.38,303.02 L283.53,288.9 L283.67,272.13 L283.81,257.91 L283.96,248.41 L284.1,241.89 L284.24,245.46 L284.39,255.65 L284.53,270.9 L284.68,288.9 L284.82,304.62 L284.96,317.95 L285.11,326.85 L285.25,329.98 L285.39,326.85 L285.54,317.95 L285.68,304.62 L285.83,288.9 L285.97,270.87 L286.11,255.59 L286.26,245.37 L286.4,242.24 L286.54,245.79 L286.69,255.9 L286.83,271.04 L286.98,288.9 L287.12,303.47 L287.26,315.83 L287.41,324.08 L287.55,326.98 L287.69,324.08 L287.84,315.83 L287.98,303.47 L288.13,288.9 L288.27,271.01 L288.41,255.84 L288.56,245.7 L288.7,245.21 L288.84,248.53 L288.99,258 L289.13,272.17 L289.28,288.9 L289.42,303.85 L289.56,316.53 L289.71,325 L289.85,327.98 L289.99,325 L290.14,316.53 L290.28,303.85 L290.43,288.9 L290.57,272.17 L290.71,257.99 L290.86,248.51 L291,243.44 L291.14,246.91 L291.29,256.77 L291.43,271.51 L291.58,288.9 L291.72,304.47 L291.86,317.67 L292.01,326.49 L292.15,329.58 L292.29,326.49 L292.44,317.67 L292.58,304.47 L292.73,288.9 L292.87,271.54 L293.01,256.82 L293.16,247 L293.3,245.55 L293.44,248.86 L293.59,258.26 L293.73,272.32 L293.88,288.9 L294.02,304.32 L294.16,317.39 L294.31,326.12 L294.45,329.19 L294.59,326.12 L294.74,317.39 L294.88,304.32 L295.03,288.9 L295.17,272.34 L295.31,258.31 L295.46,248.94 L295.6,244.47 L295.74,247.85 L295.89,257.49 L296.03,271.9 L296.18,288.9 L296.32,303.22 L296.46,315.37 L296.61,323.48 L296.75,326.33 L296.89,323.48 L297.04,315.37 L297.18,303.22 L297.33,288.9 L297.47,271.93 L297.61,257.55 L297.76,247.94 L297.9,245.24 L298.04,248.57 L298.19,258.04 L298.33,272.2 L298.48,288.9 L298.62,304.2 L298.76,317.18 L298.91,325.85 L299.05,328.89 L299.19,325.85 L299.34,317.18 L299.48,304.2 L299.63,288.9 L299.77,272.23 L299.91,258.09 L300.06,248.65 L300.2,243.29 L300.34,246.75 L300.49,256.64 L300.63,271.44 L300.78,288.9 L300.92,303.08 L301.06,315.09 L301.21,323.12 L301.35,325.94 L301.49,323.12 L301.64,315.09 L301.78,303.08 L301.93,288.9 L302.07,271.41 L302.21,256.58 L302.36,246.67 L302.5,245.11 L302.64,248.44 L302.79,257.93 L302.93,272.13 L303.08,288.9 L303.22,303.63 L303.36,316.11 L303.51,324.45 L303.65,327.38 L303.79,324.45 L303.94,316.11 L304.08,303.63 L304.23,288.9 L304.37,272.11 L304.51,257.87 L304.66,248.35 L304.8,244.41 L304.94,247.79 L305.09,257.43 L305.23,271.87 L305.38,288.9 L305.52,304.5 L305.66,317.72 L305.81,326.56 L305.95,329.66 L306.09,326.56 L306.24,317.72 L306.38,304.5 L306.53,288.9 L306.67,271.84 L306.81,257.37 L306.96,247.7 L307.1,242.54 L307.24,246.06 L307.39,256.11 L307.53,271.15 L307.68,288.9 L307.82,303.76 L307.96,316.36 L308.11,324.78 L308.25,327.74 L308.39,324.78 L308.54,316.36 L308.68,303.76 L308.83,288.9 L308.97,271.12 L309.11,256.05 L309.26,245.97 L309.4,244.51 L309.54,247.88 L309.69,257.5 L309.83,271.9 L309.98,288.9 L310.12,304.09 L310.26,316.97 L310.41,325.58 L310.55,328.6 L310.69,325.58 L310.84,316.97 L310.98,304.09 L311.13,288.9 L311.27,271.92 L311.41,257.53 L311.56,247.93 L311.7,241.22 L311.84,244.85 L311.99,255.19 L312.13,270.66 L312.28,288.9 L312.42,304.34 L312.56,317.42 L312.71,326.17 L312.85,329.24 L312.99,326.17 L313.14,317.42 L313.28,304.34 L313.43,288.9 L313.57,270.69 L313.71,255.25 L313.86,244.95 L314,246.23 L314.14,249.48 L314.29,258.74 L314.43,272.58 L314.58,288.9 L314.72,304.52 L314.86,317.75 L315.01,326.6 L315.15,329.71 L315.29,326.6 L315.44,317.75 L315.58,304.52 L315.73,288.9 L315.87,272.6 L316.01,258.79 L316.16,249.57 L316.3,242.56 L316.44,246.09 L316.59,256.14 L316.73,271.17 L316.88,288.9 L317.02,304.4 L317.16,317.54 L317.31,326.32 L317.45,329.4 L317.59,326.32 L317.74,317.54 L317.88,304.4 L318.03,288.9 L318.17,271.2 L318.31,256.2 L318.46,246.18 L318.6,244.81 L318.74,248.17 L318.89,257.73 L319.03,272.03 L319.18,288.9 L319.32,302.96 L319.46,314.87 L319.61,322.84 L319.75,325.63 L319.89,322.84 L320.04,314.87 L320.18,302.96 L320.33,288.9 L320.47,272.06 L320.61,257.79 L320.76,248.26 L320.9,244.89 L321.04,248.24 L321.19,257.79 L321.33,272.06 L321.48,288.9 L321.62,303.75 L321.76,316.34 L321.91,324.75 L322.05,327.7 L322.19,324.75 L322.34,316.34 L322.48,303.75 L322.63,288.9 L322.77,272.09 L322.91,257.84 L323.06,248.32 L323.2,243.6 L323.34,247.05 L323.49,256.87 L323.63,271.57 L323.78,288.9 L323.92,303.83 L324.06,316.49 L324.21,324.94 L324.35,327.91 L324.49,324.94 L324.64,316.49 L324.78,303.83 L324.93,288.9 L325.07,271.6 L325.21,256.93 L325.36,247.13 L325.5,244.44 L325.64,247.83 L325.79,257.47 L325.93,271.89 L326.08,288.9 L326.22,303.05 L326.36,315.04 L326.51,323.06 L326.65,325.87 L326.79,323.06 L326.94,315.04 L327.08,303.05 L327.23,288.9 L327.37,271.92 L327.51,257.53 L327.66,247.92 L327.8,245.26 L327.94,248.59 L328.09,258.05 L328.23,272.21 L328.38,288.9 L328.52,303.98 L328.66,316.76 L328.81,325.31 L328.95,328.31 L329.09,325.31 L329.24,316.76 L329.38,303.98 L329.53,288.9 L329.67,272.23 L329.81,258.11 L329.96,248.67 L330.1,248.11 L330.24,251.22 L330.39,260.07" fill="none" stroke="url(#ge)" stroke-width="0.5" stroke-opacity="0.4"/><line x1="201.6" y1="288.6" x2="334.1" y2="288.6" stroke="#a8a8a8" stroke-width="0.6"/><rect x="201.6" y="218.6" width="132.5" height="132.5" fill="none" stroke="#c2c2c2" stroke-width="1.4"/><path d="M384.9,228.28 L385.4,229.91 L385.9,231.49 L386.4,233.03 L386.9,234.52 L387.4,235.97 L387.9,237.38 L388.4,238.75 L388.9,240.08 L389.4,241.37 L389.9,242.62 L390.4,243.84 L390.9,245.03 L391.4,246.18 L391.9,247.3 L392.4,248.38 L392.9,249.44 L393.4,250.46 L393.9,251.46 L394.4,252.43 L394.9,253.37 L395.4,254.28 L395.9,255.17 L396.4,256.03 L396.9,256.86 L397.4,257.68 L397.9,258.47 L398.4,259.24 L398.9,259.98 L399.4,260.71 L399.9,261.41 L400.4,262.09 L400.9,262.76 L401.4,263.4 L401.9,264.03 L402.4,264.64 L402.9,265.23 L403.4,265.81 L403.9,266.36 L404.4,266.91 L404.9,267.43 L405.4,267.95 L405.9,268.44 L406.4,268.93 L406.9,269.4 L407.4,269.85 L407.9,270.3 L408.4,270.73 L408.9,271.14 L409.4,271.55 L409.9,271.95 L410.4,272.33 L410.9,272.7 L411.4,273.06 L411.9,273.42 L412.4,273.76 L412.9,274.09 L413.4,274.41 L413.9,274.72 L414.4,275.03 L414.9,275.32 L415.4,275.61 L415.9,275.89 L416.4,276.16 L416.9,276.42 L417.4,276.68 L417.9,276.93 L418.4,277.17 L418.9,277.41 L419.4,277.63 L419.9,277.85 L420.4,278.07 L420.9,278.28 L421.4,278.48 L421.9,278.68 L422.4,278.87 L422.9,279.06 L423.4,279.24 L423.9,279.41 L424.4,279.58 L424.9,279.75 L425.4,279.91 L425.9,280.07 L426.4,280.22 L426.9,280.37 L427.4,280.51 L427.9,280.65 L428.4,280.78 L428.9,280.92 L429.4,281.04 L429.9,281.17 L430.4,281.29 L430.9,281.41 L431.4,281.52 L431.9,281.63 L432.4,281.74 L432.9,281.84 L433.4,281.94 L433.9,282.04 L434.4,282.14 L434.9,282.23 L435.4,282.32 L435.9,282.41 L436.4,282.49 L436.9,282.58 L437.4,282.66 L437.9,282.74 L438.4,282.81 L438.9,282.89 L439.4,282.96 L439.9,283.03 L440.4,283.09 L440.9,283.16 L441.4,283.22 L441.9,283.29 L442.4,283.35 L442.9,283.4 L443.4,283.46 L443.9,283.52 L444.4,283.57 L444.9,283.62 L445.4,283.67 L445.9,283.72 L446.4,283.77 L446.9,283.82 L447.4,283.86 L447.9,283.91 L448.4,283.95 L448.9,283.99 L449.4,284.03 L449.9,284.07 L450.4,284.11 L450.9,284.14 L451.4,284.18 L451.9,284.21 L452.4,284.25 L452.9,284.28 L453.4,284.31 L453.9,284.34 L454.4,284.37 L454.9,284.4 L455.4,284.43 L455.9,284.46 L456.4,284.49 L456.9,284.51 L457.4,284.54 L457.9,284.56 L458.4,284.59 L458.9,284.61 L459.4,284.63 L459.9,284.65 L460.4,284.67 L460.9,284.7 L461.4,284.72 L461.9,284.74 L462.4,284.75 L462.9,284.77 L463.4,284.79 L463.9,284.81 L464.4,284.82 L464.9,284.84 L465.4,284.86 L465.9,284.87 L466.4,284.89 L466.9,284.9 L467.4,284.92 L467.9,284.93 L468.4,284.94 L468.9,284.96 L469.4,284.97 L469.9,284.98 L470.4,284.99 L470.9,285 L471.4,285.02 L471.9,285.03 L472.4,285.04 L472.9,285.05 L473.4,285.06 L473.9,285.07 L474.4,285.08 L474.9,285.09 L475.4,285.1 L475.9,285.1 L476.4,285.11 L476.9,285.12 L477.4,285.13 L477.9,285.14 L478.4,285.14 L478.9,285.15 L479.4,285.16 L479.9,285.17 L480.4,285.17 L480.9,285.18 L481.4,285.18 L481.9,285.19 L482.4,285.2 L482.9,285.2 L483.4,285.21 L483.9,285.21 L484.4,285.22 L484.9,285.22 L485.4,285.23 L485.9,285.23 L486.4,285.24 L486.9,285.24 L487.4,285.25 L487.9,285.25 L488.4,285.26 L488.9,285.26 L489.4,285.26 L489.9,285.27 L490.4,285.27 L490.9,285.28 L491.4,285.28 L491.9,285.28 L492.4,285.29 L492.9,285.29 L493.4,285.29 L493.9,285.3 L494.4,285.3 L494.9,285.3 L495.4,285.3 L495.9,285.31 L496.4,285.31 L496.9,285.31 L497.4,285.31 L497.9,285.32 L498.4,285.32 L498.9,285.32 L499.4,285.32 L499.9,285.33 L500.4,285.33 L500.9,285.33 L501.4,285.33 L501.9,285.33 L502.4,285.34 L502.9,285.34 L503.4,285.34 L503.9,285.34 L504.4,285.34 L504.9,285.34 L505.4,285.35 L505.9,285.35 L506.4,285.35 L506.9,285.35 L507.4,285.35 L507.9,285.35 L508.4,285.35 L508.9,285.36 L509.4,285.36 L509.9,285.36 L510.4,285.36 L510.9,285.36 L511.4,285.36 L511.9,285.36 L511.9,285.44 L511.4,285.44 L510.9,285.44 L510.4,285.44 L509.9,285.44 L509.4,285.44 L508.9,285.44 L508.4,285.45 L507.9,285.45 L507.4,285.45 L506.9,285.45 L506.4,285.45 L505.9,285.45 L505.4,285.45 L504.9,285.46 L504.4,285.46 L503.9,285.46 L503.4,285.46 L502.9,285.46 L502.4,285.46 L501.9,285.47 L501.4,285.47 L500.9,285.47 L500.4,285.47 L499.9,285.47 L499.4,285.48 L498.9,285.48 L498.4,285.48 L497.9,285.48 L497.4,285.49 L496.9,285.49 L496.4,285.49 L495.9,285.49 L495.4,285.5 L494.9,285.5 L494.4,285.5 L493.9,285.5 L493.4,285.51 L492.9,285.51 L492.4,285.51 L491.9,285.52 L491.4,285.52 L490.9,285.52 L490.4,285.53 L489.9,285.53 L489.4,285.54 L488.9,285.54 L488.4,285.54 L487.9,285.55 L487.4,285.55 L486.9,285.56 L486.4,285.56 L485.9,285.57 L485.4,285.57 L484.9,285.58 L484.4,285.58 L483.9,285.59 L483.4,285.59 L482.9,285.6 L482.4,285.6 L481.9,285.61 L481.4,285.62 L480.9,285.62 L480.4,285.63 L479.9,285.63 L479.4,285.64 L478.9,285.65 L478.4,285.66 L477.9,285.66 L477.4,285.67 L476.9,285.68 L476.4,285.69 L475.9,285.7 L475.4,285.7 L474.9,285.71 L474.4,285.72 L473.9,285.73 L473.4,285.74 L472.9,285.75 L472.4,285.76 L471.9,285.77 L471.4,285.78 L470.9,285.8 L470.4,285.81 L469.9,285.82 L469.4,285.83 L468.9,285.84 L468.4,285.86 L467.9,285.87 L467.4,285.88 L466.9,285.9 L466.4,285.91 L465.9,285.93 L465.4,285.94 L464.9,285.96 L464.4,285.98 L463.9,285.99 L463.4,286.01 L462.9,286.03 L462.4,286.05 L461.9,286.06 L461.4,286.08 L460.9,286.1 L460.4,286.13 L459.9,286.15 L459.4,286.17 L458.9,286.19 L458.4,286.21 L457.9,286.24 L457.4,286.26 L456.9,286.29 L456.4,286.31 L455.9,286.34 L455.4,286.37 L454.9,286.4 L454.4,286.43 L453.9,286.46 L453.4,286.49 L452.9,286.52 L452.4,286.55 L451.9,286.59 L451.4,286.62 L450.9,286.66 L450.4,286.69 L449.9,286.73 L449.4,286.77 L448.9,286.81 L448.4,286.85 L447.9,286.89 L447.4,286.94 L446.9,286.98 L446.4,287.03 L445.9,287.08 L445.4,287.13 L444.9,287.18 L444.4,287.23 L443.9,287.28 L443.4,287.34 L442.9,287.4 L442.4,287.45 L441.9,287.51 L441.4,287.58 L440.9,287.64 L440.4,287.71 L439.9,287.77 L439.4,287.84 L438.9,287.91 L438.4,287.99 L437.9,288.06 L437.4,288.14 L436.9,288.22 L436.4,288.31 L435.9,288.39 L435.4,288.48 L434.9,288.57 L434.4,288.66 L433.9,288.76 L433.4,288.86 L432.9,288.96 L432.4,289.06 L431.9,289.17 L431.4,289.28 L430.9,289.39 L430.4,289.51 L429.9,289.63 L429.4,289.76 L428.9,289.88 L428.4,290.02 L427.9,290.15 L427.4,290.29 L426.9,290.43 L426.4,290.58 L425.9,290.73 L425.4,290.89 L424.9,291.05 L424.4,291.22 L423.9,291.39 L423.4,291.56 L422.9,291.74 L422.4,291.93 L421.9,292.12 L421.4,292.32 L420.9,292.52 L420.4,292.73 L419.9,292.95 L419.4,293.17 L418.9,293.39 L418.4,293.63 L417.9,293.87 L417.4,294.12 L416.9,294.38 L416.4,294.64 L415.9,294.91 L415.4,295.19 L414.9,295.48 L414.4,295.77 L413.9,296.08 L413.4,296.39 L412.9,296.71 L412.4,297.04 L411.9,297.38 L411.4,297.74 L410.9,298.1 L410.4,298.47 L409.9,298.85 L409.4,299.25 L408.9,299.66 L408.4,300.07 L407.9,300.5 L407.4,300.95 L406.9,301.4 L406.4,301.87 L405.9,302.36 L405.4,302.85 L404.9,303.37 L404.4,303.89 L403.9,304.44 L403.4,304.99 L402.9,305.57 L402.4,306.16 L401.9,306.77 L401.4,307.4 L400.9,308.04 L400.4,308.71 L399.9,309.39 L399.4,310.09 L398.9,310.82 L398.4,311.56 L397.9,312.33 L397.4,313.12 L396.9,313.94 L396.4,314.77 L395.9,315.63 L395.4,316.52 L394.9,317.43 L394.4,318.37 L393.9,319.34 L393.4,320.34 L392.9,321.36 L392.4,322.42 L391.9,323.5 L391.4,324.62 L390.9,325.77 L390.4,326.96 L389.9,328.18 L389.4,329.43 L388.9,330.72 L388.4,332.05 L387.9,333.42 L387.4,334.83 L386.9,336.28 L386.4,337.77 L385.9,339.31 L385.4,340.89 L384.9,342.52 Z" fill="url(#gf)" fill-opacity="0.32"/><path d="M384.9,231.32 L385.06,239 L385.22,258.85 L385.38,285.4 L385.53,311.47 L385.69,330.14 L385.85,336.59 L386.01,329.32 L386.17,310.53 L386.33,285.4 L386.48,260.73 L386.64,243.06 L386.8,238.32 L386.96,245 L387.12,262.29 L387.28,285.4 L387.43,308.09 L387.59,324.35 L387.75,329.96 L387.91,323.64 L388.07,307.28 L388.23,285.4 L388.38,263.92 L388.54,248.54 L388.7,239.83 L388.86,246.3 L389.02,263.03 L389.18,285.4 L389.33,307.37 L389.49,323.1 L389.65,328.53 L389.81,322.41 L389.97,306.58 L390.13,285.4 L390.28,264.61 L390.44,249.72 L390.6,242.78 L390.76,248.83 L390.92,264.48 L391.08,285.4 L391.23,305.94 L391.39,320.66 L391.55,325.74 L391.71,320.02 L391.87,305.2 L392.03,285.4 L392.18,265.96 L392.34,252.03 L392.5,249.09 L392.66,254.24 L392.82,267.57 L392.98,285.4 L393.13,302.9 L393.29,315.44 L393.45,319.77 L393.61,314.9 L393.77,302.27 L393.93,285.4 L394.08,268.83 L394.24,256.96 L394.4,252.51 L394.56,257.17 L394.72,269.25 L394.88,285.4 L395.03,301.26 L395.19,312.61 L395.35,316.54 L395.51,312.12 L395.67,300.69 L395.83,285.4 L395.98,270.39 L396.14,259.64 L396.3,258.26 L396.46,262.11 L396.62,272.07 L396.78,285.4 L396.93,298.48 L397.09,307.86 L397.25,311.09 L397.41,307.45 L397.57,298.01 L397.73,285.4 L397.88,273.02 L398.04,264.15 L398.2,258.99 L398.36,262.73 L398.52,272.43 L398.68,285.4 L398.83,298.13 L398.99,307.25 L399.15,310.4 L399.31,306.85 L399.47,297.67 L399.63,285.4 L399.78,273.35 L399.94,264.72 L400.1,259.94 L400.26,263.55 L400.42,272.9 L400.58,285.4 L400.73,297.67 L400.89,306.46 L401.05,309.5 L401.21,306.08 L401.37,297.23 L401.53,285.4 L401.68,273.78 L401.84,265.46 L402,262.91 L402.16,266.1 L402.32,274.36 L402.48,285.4 L402.63,296.24 L402.79,304 L402.95,306.69 L403.11,303.67 L403.27,295.85 L403.43,285.4 L403.58,275.14 L403.74,267.79 L403.9,265.64 L404.06,268.44 L404.22,275.7 L404.38,285.4 L404.53,294.93 L404.69,301.75 L404.85,304.11 L405.01,301.45 L405.17,294.58 L405.33,285.4 L405.48,276.38 L405.64,269.92 L405.8,269.46 L405.96,271.72 L406.12,277.57 L406.28,285.4 L406.43,293.08 L406.59,298.59 L406.75,300.49 L406.91,298.35 L407.07,292.81 L407.23,285.4 L407.38,278.13 L407.54,272.92 L407.7,269.12 L407.86,271.43 L408.02,277.41 L408.18,285.4 L408.33,293.25 L408.49,298.87 L408.65,300.81 L408.81,298.63 L408.97,292.97 L409.13,285.4 L409.28,277.97 L409.44,272.65 L409.6,270.9 L409.76,272.95 L409.92,278.28 L410.08,285.4 L410.23,292.39 L410.39,297.4 L410.55,299.13 L410.71,297.18 L410.87,292.14 L411.03,285.4 L411.18,278.78 L411.34,274.04 L411.5,273.82 L411.66,275.46 L411.82,279.71 L411.98,285.4 L412.13,290.98 L412.29,294.98 L412.45,296.36 L412.61,294.81 L412.77,290.78 L412.93,285.4 L413.08,280.12 L413.24,276.33 L413.4,274.17 L413.56,275.76 L413.72,279.89 L413.88,285.4 L414.03,290.81 L414.19,294.69 L414.35,296.03 L414.51,294.52 L414.67,290.62 L414.83,285.4 L414.98,280.28 L415.14,276.61 L415.3,276.34 L415.46,277.63 L415.62,280.95 L415.78,285.4 L415.93,289.77 L416.09,292.89 L416.25,293.97 L416.41,292.76 L416.57,289.61 L416.73,285.4 L416.88,281.27 L417.04,278.31 L417.2,277.14 L417.36,278.31 L417.52,281.35 L417.68,285.4 L417.83,289.38 L417.99,292.23 L418.15,293.22 L418.31,292.11 L418.47,289.24 L418.63,285.4 L418.78,281.63 L418.94,278.93 L419.1,277.74 L419.26,278.83 L419.42,281.64 L419.58,285.4 L419.73,289.09 L419.89,291.74 L420.05,292.65 L420.21,291.62 L420.37,288.96 L420.53,285.4 L420.68,281.9 L420.84,279.4 L421,278.72 L421.16,279.67 L421.32,282.12 L421.48,285.4 L421.63,288.62 L421.79,290.92 L421.95,291.72 L422.11,290.82 L422.27,288.5 L422.43,285.4 L422.58,282.35 L422.74,280.17 L422.9,278.78 L423.06,279.72 L423.22,282.15 L423.38,285.4 L423.53,288.59 L423.69,290.87 L423.85,291.66 L424.01,290.77 L424.17,288.47 L424.33,285.4 L424.48,282.38 L424.64,280.22 L424.8,279.42 L424.96,280.26 L425.12,282.46 L425.28,285.4 L425.43,288.28 L425.59,290.35 L425.75,291.06 L425.91,290.26 L426.07,288.18 L426.23,285.4 L426.38,282.67 L426.54,280.71 L426.7,280.44 L426.86,281.14 L427.02,282.96 L427.18,285.4 L427.33,287.79 L427.49,289.5 L427.65,290.09 L427.81,289.43 L427.97,287.7 L428.13,285.4 L428.28,283.14 L428.44,281.52 L428.6,280.98 L428.76,281.6 L428.92,283.23 L429.08,285.4 L429.23,287.53 L429.39,289.06 L429.55,289.59 L429.71,288.99 L429.87,287.46 L430.03,285.4 L430.18,283.38 L430.34,281.94 L430.5,281.58 L430.66,282.12 L430.82,283.52 L430.98,285.4 L431.13,287.24 L431.29,288.56 L431.45,289.02 L431.61,288.51 L431.77,287.18 L431.93,285.4 L432.08,283.66 L432.24,282.41 L432.4,281.99 L432.56,282.48 L432.72,283.73 L432.88,285.4 L433.03,287.04 L433.19,288.22 L433.35,288.63 L433.51,288.17 L433.67,286.98 L433.83,285.4 L433.98,283.85 L434.14,282.73 L434.3,282 L434.46,282.48 L434.62,283.73 L434.78,285.4 L434.93,287.04 L435.09,288.21 L435.25,288.62 L435.41,288.16 L435.57,286.98 L435.73,285.4 L435.88,283.85 L436.04,282.74 L436.2,282.41 L436.36,282.84 L436.52,283.93 L436.68,285.4 L436.83,286.84 L436.99,287.87 L437.15,288.23 L437.31,287.83 L437.47,286.79 L437.63,285.4 L437.78,284.04 L437.94,283.06 L438.1,282.96 L438.26,283.31 L438.42,284.2 L438.58,285.4 L438.73,286.58 L438.89,287.42 L439.05,287.71 L439.21,287.38 L439.37,286.53 L439.53,285.4 L439.68,284.29 L439.84,283.49 L440,283.05 L440.16,283.38 L440.32,284.25 L440.48,285.4 L440.63,286.53 L440.79,287.35 L440.95,287.63 L441.11,287.31 L441.27,286.49 L441.43,285.4 L441.58,284.33 L441.74,283.56 L441.9,283.32 L442.06,283.62 L442.22,284.38 L442.38,285.4 L442.53,286.4 L442.69,287.12 L442.85,287.37 L443.01,287.09 L443.17,286.37 L443.33,285.4 L443.48,284.45 L443.64,283.77 L443.8,283.4 L443.96,283.68 L444.12,284.42 L444.28,285.4 L444.43,286.37 L444.59,287.06 L444.75,287.3 L444.91,287.03 L445.07,286.33 L445.23,285.4 L445.38,284.49 L445.54,283.83 L445.7,283.64 L445.86,283.89 L446.02,284.54 L446.18,285.4 L446.33,286.25 L446.49,286.85 L446.65,287.06 L446.81,286.83 L446.97,286.22 L447.13,285.4 L447.28,284.6 L447.44,284.02 L447.6,283.85 L447.76,284.07 L447.92,284.64 L448.08,285.4 L448.23,286.15 L448.39,286.68 L448.55,286.86 L448.71,286.66 L448.87,286.12 L449.03,285.4 L449.18,284.69 L449.34,284.19 L449.5,284.03 L449.66,284.22 L449.82,284.73 L449.98,285.4 L450.13,286.06 L450.29,286.54 L450.45,286.7 L450.61,286.52 L450.77,286.04 L450.93,285.4 L451.08,284.77 L451.24,284.32 L451.4,284.09 L451.56,284.27 L451.72,284.76 L451.88,285.4 L452.03,286.03 L452.19,286.49 L452.35,286.64 L452.51,286.47 L452.67,286.01 L452.83,285.4 L452.98,284.8 L453.14,284.37 L453.3,284.22 L453.46,284.39 L453.62,284.82 L453.78,285.4 L453.93,285.97 L454.09,286.38 L454.25,286.52 L454.41,286.36 L454.57,285.95 L454.73,285.4 L454.88,284.86 L455.04,284.47 L455.2,284.45 L455.36,284.58 L455.52,284.93 L455.68,285.4 L455.83,285.86 L455.99,286.19 L456.15,286.3 L456.31,286.17 L456.47,285.84 L456.63,285.4 L456.78,284.97 L456.94,284.65 L457.1,284.56 L457.26,284.68 L457.42,284.99 L457.58,285.4 L457.73,285.8 L457.89,286.09 L458.05,286.19 L458.21,286.08 L458.37,285.79 L458.53,285.4 L458.68,285.02 L458.84,284.74 L459,284.57 L459.16,284.69 L459.32,284.99 L459.48,285.4 L459.63,285.8 L459.79,286.08 L459.95,286.18 L460.11,286.07 L460.27,285.78 L460.43,285.4 L460.58,285.02 L460.74,284.75 L460.9,284.75 L461.06,284.84 L461.22,285.08 L461.38,285.4 L461.53,285.71 L461.69,285.94 L461.85,286.02 L462.01,285.93 L462.17,285.7 L462.33,285.4 L462.48,285.1 L462.64,284.89 L462.8,284.78 L462.96,284.87 L463.12,285.1 L463.28,285.4 L463.43,285.7 L463.59,285.91 L463.75,285.98 L463.91,285.9 L464.07,285.69 L464.23,285.4 L464.38,285.12 L464.54,284.92 L464.7,284.88 L464.86,284.95 L465.02,285.14 L465.18,285.4 L465.33,285.65 L465.49,285.83 L465.65,285.9 L465.81,285.83 L465.97,285.64 L466.13,285.4 L466.28,285.16 L466.44,284.99 L466.6,284.91 L466.76,284.98 L466.92,285.16 L467.08,285.4 L467.23,285.64 L467.39,285.81 L467.55,285.87 L467.71,285.8 L467.87,285.63 L468.03,285.4 L468.18,285.18 L468.34,285.02 L468.5,284.98 L468.66,285.04 L468.82,285.19 L468.98,285.4 L469.13,285.6 L469.29,285.75 L469.45,285.8 L469.61,285.74 L469.77,285.6 L469.93,285.4 L470.08,285.21 L470.24,285.07 L470.4,285.01 L470.56,285.06 L470.72,285.21 L470.88,285.4 L471.03,285.59 L471.19,285.72 L471.35,285.77 L471.51,285.72 L471.67,285.58 L471.83,285.4 L471.98,285.22 L472.14,285.09 L472.3,285.02 L472.46,285.07 L472.62,285.21 L472.78,285.4 L472.93,285.58 L473.09,285.72 L473.25,285.76 L473.41,285.71 L473.57,285.58 L473.73,285.4 L473.88,285.23 L474.04,285.1 L474.2,285.05 L474.36,285.1 L474.52,285.23 L474.68,285.4 L474.83,285.57 L474.99,285.69 L475.15,285.73 L475.31,285.68 L475.47,285.56 L475.63,285.4 L475.78,285.24 L475.94,285.13 L476.1,285.09 L476.26,285.14 L476.42,285.25 L476.58,285.4 L476.73,285.55 L476.89,285.65 L477.05,285.69 L477.21,285.65 L477.37,285.54 L477.53,285.4 L477.68,285.26 L477.84,285.16 L478,285.14 L478.16,285.17 L478.32,285.27 L478.48,285.4 L478.63,285.53 L478.79,285.62 L478.95,285.65 L479.11,285.62 L479.27,285.52 L479.43,285.4 L479.58,285.28 L479.74,285.19 L479.9,285.16 L480.06,285.19 L480.22,285.28 L480.38,285.4 L480.53,285.52 L480.69,285.6 L480.85,285.63 L481.01,285.59 L481.17,285.51 L481.33,285.4 L481.48,285.29 L481.64,285.21 L481.8,285.19 L481.96,285.22 L482.12,285.3 L482.28,285.4 L482.43,285.5 L482.59,285.57 L482.75,285.59 L482.91,285.57 L483.07,285.5 L483.23,285.4 L483.38,285.31 L483.54,285.24 L483.7,285.22 L483.86,285.25 L484.02,285.31 L484.18,285.4 L484.33,285.49 L484.49,285.55 L484.65,285.57 L484.81,285.54 L484.97,285.48 L485.13,285.4 L485.28,285.32 L485.44,285.26 L485.6,285.23 L485.76,285.26 L485.92,285.32 L486.08,285.4 L486.23,285.48 L486.39,285.54 L486.55,285.56 L486.71,285.54 L486.87,285.48 L487.03,285.4 L487.18,285.32 L487.34,285.27 L487.5,285.24 L487.66,285.27 L487.82,285.32 L487.98,285.4 L488.13,285.48 L488.29,285.53 L488.45,285.55 L488.61,285.53 L488.77,285.47 L488.93,285.4 L489.08,285.33 L489.24,285.28 L489.4,285.27 L489.56,285.29 L489.72,285.34 L489.88,285.4 L490.03,285.46 L490.19,285.5 L490.35,285.52 L490.51,285.5 L490.67,285.46 L490.83,285.4 L490.98,285.34 L491.14,285.3 L491.3,285.29 L491.46,285.3 L491.62,285.35 L491.78,285.4 L491.93,285.45 L492.09,285.49 L492.25,285.51 L492.41,285.49 L492.57,285.45 L492.73,285.4 L492.88,285.35 L493.04,285.31 L493.2,285.29 L493.36,285.3 L493.52,285.34 L493.68,285.4 L493.83,285.45 L493.99,285.49 L494.15,285.51 L494.31,285.49 L494.47,285.45 L494.63,285.4 L494.78,285.35 L494.94,285.31 L495.1,285.31 L495.26,285.32 L495.42,285.35 L495.58,285.4 L495.73,285.45 L495.89,285.48 L496.05,285.49 L496.21,285.48 L496.37,285.44 L496.53,285.4 L496.68,285.36 L496.84,285.33 L497,285.31 L497.16,285.32 L497.32,285.36 L497.48,285.4 L497.63,285.44 L497.79,285.47 L497.95,285.49 L498.11,285.47 L498.27,285.44 L498.43,285.4 L498.58,285.36 L498.74,285.33 L498.9,285.32 L499.06,285.33 L499.22,285.36 L499.38,285.4 L499.53,285.44 L499.69,285.47 L499.85,285.48 L500.01,285.47 L500.17,285.44 L500.33,285.4 L500.48,285.36 L500.64,285.34 L500.8,285.32 L500.96,285.34 L501.12,285.36 L501.28,285.4 L501.43,285.44 L501.59,285.46 L501.75,285.47 L501.91,285.46 L502.07,285.43 L502.23,285.4 L502.38,285.37 L502.54,285.34 L502.7,285.34 L502.86,285.35 L503.02,285.37 L503.18,285.4 L503.33,285.43 L503.49,285.45 L503.65,285.46 L503.81,285.45 L503.97,285.43 L504.13,285.4 L504.28,285.37 L504.44,285.35 L504.6,285.35 L504.76,285.35 L504.92,285.37 L505.08,285.4 L505.23,285.43 L505.39,285.45 L505.55,285.45 L505.71,285.44 L505.87,285.43 L506.03,285.4 L506.18,285.37 L506.34,285.36 L506.5,285.35 L506.66,285.35 L506.82,285.37 L506.98,285.4 L507.13,285.43 L507.29,285.44 L507.45,285.45 L507.61,285.44 L507.77,285.42 L507.93,285.4 L508.08,285.38 L508.24,285.36 L508.4,285.35 L508.56,285.36 L508.72,285.38 L508.88,285.4 L509.03,285.42 L509.19,285.44 L509.35,285.44 L509.51,285.44 L509.67,285.42 L509.83,285.4 L509.98,285.38 L510.14,285.36 L510.3,285.36 L510.46,285.36 L510.62,285.38 L510.78,285.4 L510.93,285.42 L511.09,285.43 L511.25,285.44 L511.41,285.43 L511.57,285.42 L511.73,285.4 L511.88,285.38" fill="none" stroke="url(#gf)" stroke-width="0.5" stroke-opacity="0.42"/><line x1="432.484" y1="285.4" x2="512.0385" y2="285.4" stroke="url(#gf)" stroke-width="0.9" stroke-opacity="0.55"/><rect x="382.5" y="217.6" width="132.4" height="133.2" fill="none" stroke="#c2c2c2" stroke-width="1.4"/><text x="0" y="0" font-size="7.170" text-anchor="end" font-family="'Liberation Sans', sans-serif" fill="#1e1e1e" stroke="#1e1e1e" stroke-width="0.18" transform="translate(22.98,163.34) scale(1.0927,1)">0</text><text x="0" y="0" font-size="7.170" text-anchor="end" font-family="'Liberation Sans', sans-serif" fill="#1e1e1e" stroke="#1e1e1e" stroke-width="0.18" transform="translate(22.98,135.94) scale(1.0927,1)">5</text><text x="0" y="0" font-size="7.170" text-anchor="end" font-family="'Liberation Sans', sans-serif" fill="#1e1e1e" stroke="#1e1e1e" stroke-width="0.18" transform="translate(22.98,108.54) scale(1.0927,1)">10</text><text x="0" y="0" font-size="7.170" text-anchor="end" font-family="'Liberation Sans', sans-serif" fill="#1e1e1e" stroke="#1e1e1e" stroke-width="0.18" transform="translate(22.98,81.14) scale(1.0927,1)">15</text><text x="0" y="0" font-size="7.170" text-anchor="end" font-family="'Liberation Sans', sans-serif" fill="#1e1e1e" stroke="#1e1e1e" stroke-width="0.18" transform="translate(22.98,53.74) scale(1.0927,1)">20</text><text x="0" y="0" font-size="7.170" text-anchor="end" font-family="'Liberation Sans', sans-serif" fill="#1e1e1e" stroke="#1e1e1e" stroke-width="0.18" transform="translate(22.98,26.34) scale(1.0927,1)">25</text><text x="0" y="0" font-size="7.614" text-anchor="middle" font-family="'Liberation Sans', sans-serif" fill="#1e1e1e" stroke="#1e1e1e" stroke-width="0.18" transform="translate(48.51,170.88) scale(1.0352,1)">0</text><text x="0" y="0" font-size="7.614" text-anchor="middle" font-family="'Liberation Sans', sans-serif" fill="#1e1e1e" stroke="#1e1e1e" stroke-width="0.18" transform="translate(85.41,170.88) scale(1.0352,1)">5</text><text x="0" y="0" font-size="7.614" text-anchor="middle" font-family="'Liberation Sans', sans-serif" fill="#1e1e1e" stroke="#1e1e1e" stroke-width="0.18" transform="translate(122.31,170.88) scale(1.0352,1)">10</text><text x="0" y="0" font-size="7.614" text-anchor="middle" font-family="'Liberation Sans', sans-serif" fill="#1e1e1e" stroke="#1e1e1e" stroke-width="0.18" transform="translate(159.21,170.88) scale(1.0352,1)">15</text><text x="0" y="0" font-size="7.141" text-anchor="end" font-family="'Liberation Sans', sans-serif" fill="#1e1e1e" stroke="#1e1e1e" stroke-width="0.18" transform="translate(204.94,49.1) scale(1.1964,1)">0.5</text><text x="0" y="0" font-size="7.141" text-anchor="end" font-family="'Liberation Sans', sans-serif" fill="#1e1e1e" stroke="#1e1e1e" stroke-width="0.18" transform="translate(204.94,79.89) scale(1.1964,1)">0.0</text><text x="0" y="0" font-size="7.141" text-anchor="end" font-family="'Liberation Sans', sans-serif" fill="#1e1e1e" stroke="#1e1e1e" stroke-width="0.18" transform="translate(204.94,110.67) scale(1.1964,1)">−0.5</text><text x="0" y="0" font-size="7.141" text-anchor="end" font-family="'Liberation Sans', sans-serif" fill="#1e1e1e" stroke="#1e1e1e" stroke-width="0.18" transform="translate(204.94,141.46) scale(1.1964,1)">−1.0</text><text x="0" y="0" font-size="7.664" text-anchor="middle" font-family="'Liberation Sans', sans-serif" fill="#1e1e1e" stroke="#1e1e1e" stroke-width="0.18" transform="translate(229.21,168.58) scale(1.0683,1)">0</text><text x="0" y="0" font-size="7.664" text-anchor="middle" font-family="'Liberation Sans', sans-serif" fill="#1e1e1e" stroke="#1e1e1e" stroke-width="0.18" transform="translate(265.46,168.58) scale(1.0683,1)">5</text><text x="0" y="0" font-size="7.664" text-anchor="middle" font-family="'Liberation Sans', sans-serif" fill="#1e1e1e" stroke="#1e1e1e" stroke-width="0.18" transform="translate(301.71,168.58) scale(1.0683,1)">10</text><text x="0" y="0" font-size="7.664" text-anchor="middle" font-family="'Liberation Sans', sans-serif" fill="#1e1e1e" stroke="#1e1e1e" stroke-width="0.18" transform="translate(337.96,168.58) scale(1.0683,1)">15</text><text x="0" y="0" font-size="8.343" text-anchor="end" font-family="'Liberation Sans', sans-serif" fill="#1e1e1e" stroke="#1e1e1e" stroke-width="0.18" transform="translate(377.71,32.22) scale(1.0114,1)">1.0</text><text x="0" y="0" font-size="8.343" text-anchor="end" font-family="'Liberation Sans', sans-serif" fill="#1e1e1e" stroke="#1e1e1e" stroke-width="0.18" transform="translate(377.71,63.12) scale(1.0114,1)">0.5</text><text x="0" y="0" font-size="8.343" text-anchor="end" font-family="'Liberation Sans', sans-serif" fill="#1e1e1e" stroke="#1e1e1e" stroke-width="0.18" transform="translate(377.71,94.02) scale(1.0114,1)">0.0</text><text x="0" y="0" font-size="8.343" text-anchor="end" font-family="'Liberation Sans', sans-serif" fill="#1e1e1e" stroke="#1e1e1e" stroke-width="0.18" transform="translate(377.71,124.92) scale(1.0114,1)">−0.5</text><text x="0" y="0" font-size="8.343" text-anchor="end" font-family="'Liberation Sans', sans-serif" fill="#1e1e1e" stroke="#1e1e1e" stroke-width="0.18" transform="translate(377.71,155.82) scale(1.0114,1)">−1.0</text><text x="0" y="0" font-size="7.664" text-anchor="middle" font-family="'Liberation Sans', sans-serif" fill="#1e1e1e" stroke="#1e1e1e" stroke-width="0.18" transform="translate(380.67,167.54) scale(1.0148,1)">0</text><text x="0" y="0" font-size="7.664" text-anchor="middle" font-family="'Liberation Sans', sans-serif" fill="#1e1e1e" stroke="#1e1e1e" stroke-width="0.18" transform="translate(403.04,167.54) scale(1.0148,1)">2</text><text x="0" y="0" font-size="7.664" text-anchor="middle" font-family="'Liberation Sans', sans-serif" fill="#1e1e1e" stroke="#1e1e1e" stroke-width="0.18" transform="translate(425.41,167.54) scale(1.0148,1)">4</text><text x="0" y="0" font-size="7.664" text-anchor="middle" font-family="'Liberation Sans', sans-serif" fill="#1e1e1e" stroke="#1e1e1e" stroke-width="0.18" transform="translate(447.78,167.54) scale(1.0148,1)">6</text><text x="0" y="0" font-size="7.664" text-anchor="middle" font-family="'Liberation Sans', sans-serif" fill="#1e1e1e" stroke="#1e1e1e" stroke-width="0.18" transform="translate(470.15,167.54) scale(1.0148,1)">8</text><text x="0" y="0" font-size="7.664" text-anchor="middle" font-family="'Liberation Sans', sans-serif" fill="#1e1e1e" stroke="#1e1e1e" stroke-width="0.18" transform="translate(492.52,167.54) scale(1.0148,1)">10</text><text x="0" y="0" font-size="7.664" text-anchor="middle" font-family="'Liberation Sans', sans-serif" fill="#1e1e1e" stroke="#1e1e1e" stroke-width="0.18" transform="translate(514.89,167.54) scale(1.0148,1)">12</text><text x="0" y="0" font-size="9.648" text-anchor="end" font-family="'Liberation Sans', sans-serif" fill="#1e1e1e" stroke="#1e1e1e" stroke-width="0.18" transform="translate(35.13,223.94) scale(1.0286,1)">0.68</text><text x="0" y="0" font-size="9.648" text-anchor="end" font-family="'Liberation Sans', sans-serif" fill="#1e1e1e" stroke="#1e1e1e" stroke-width="0.18" transform="translate(35.13,247.39) scale(1.0286,1)">0.66</text><text x="0" y="0" font-size="9.648" text-anchor="end" font-family="'Liberation Sans', sans-serif" fill="#1e1e1e" stroke="#1e1e1e" stroke-width="0.18" transform="translate(35.13,270.84) scale(1.0286,1)">0.64</text><text x="0" y="0" font-size="9.648" text-anchor="end" font-family="'Liberation Sans', sans-serif" fill="#1e1e1e" stroke="#1e1e1e" stroke-width="0.18" transform="translate(35.13,294.29) scale(1.0286,1)">0.62</text><text x="0" y="0" font-size="9.648" text-anchor="end" font-family="'Liberation Sans', sans-serif" fill="#1e1e1e" stroke="#1e1e1e" stroke-width="0.18" transform="translate(35.13,317.74) scale(1.0286,1)">0.60</text><text x="0" y="0" font-size="9.648" text-anchor="end" font-family="'Liberation Sans', sans-serif" fill="#1e1e1e" stroke="#1e1e1e" stroke-width="0.18" transform="translate(35.13,341.19) scale(1.0286,1)">0.58</text><text x="0" y="0" font-size="9.541" text-anchor="middle" font-family="'Liberation Sans', sans-serif" fill="#1e1e1e" stroke="#1e1e1e" stroke-width="0.18" transform="translate(38.52,360.04) scale(1.0696,1)">0</text><text x="0" y="0" font-size="9.541" text-anchor="middle" font-family="'Liberation Sans', sans-serif" fill="#1e1e1e" stroke="#1e1e1e" stroke-width="0.18" transform="translate(67.77,360.04) scale(1.0696,1)">2</text><text x="0" y="0" font-size="9.541" text-anchor="middle" font-family="'Liberation Sans', sans-serif" fill="#1e1e1e" stroke="#1e1e1e" stroke-width="0.18" transform="translate(97.02,360.04) scale(1.0696,1)">4</text><text x="0" y="0" font-size="9.541" text-anchor="middle" font-family="'Liberation Sans', sans-serif" fill="#1e1e1e" stroke="#1e1e1e" stroke-width="0.18" transform="translate(126.27,360.04) scale(1.0696,1)">6</text><text x="0" y="0" font-size="9.541" text-anchor="middle" font-family="'Liberation Sans', sans-serif" fill="#1e1e1e" stroke="#1e1e1e" stroke-width="0.18" transform="translate(155.52,360.04) scale(1.0696,1)">8</text><text x="0" y="0" font-size="9.648" text-anchor="end" font-family="'Liberation Sans', sans-serif" fill="#1e1e1e" stroke="#1e1e1e" stroke-width="0.18" transform="translate(200.62,228.24) scale(1.0105,1)">1.0</text><text x="0" y="0" font-size="9.648" text-anchor="end" font-family="'Liberation Sans', sans-serif" fill="#1e1e1e" stroke="#1e1e1e" stroke-width="0.18" transform="translate(200.62,260.24) scale(1.0105,1)">0.5</text><text x="0" y="0" font-size="9.648" text-anchor="end" font-family="'Liberation Sans', sans-serif" fill="#1e1e1e" stroke="#1e1e1e" stroke-width="0.18" transform="translate(200.62,292.24) scale(1.0105,1)">0.0</text><text x="0" y="0" font-size="9.648" text-anchor="end" font-family="'Liberation Sans', sans-serif" fill="#1e1e1e" stroke="#1e1e1e" stroke-width="0.18" transform="translate(200.62,324.24) scale(1.0105,1)">−0.5</text><text x="0" y="0" font-size="9.648" text-anchor="middle" font-family="'Liberation Sans', sans-serif" fill="#1e1e1e" stroke="#1e1e1e" stroke-width="0.18" transform="translate(204.04,360.36) scale(1.0729,1)">0</text><text x="0" y="0" font-size="9.648" text-anchor="middle" font-family="'Liberation Sans', sans-serif" fill="#1e1e1e" stroke="#1e1e1e" stroke-width="0.18" transform="translate(233.86,360.36) scale(1.0729,1)">2</text><text x="0" y="0" font-size="9.648" text-anchor="middle" font-family="'Liberation Sans', sans-serif" fill="#1e1e1e" stroke="#1e1e1e" stroke-width="0.18" transform="translate(263.68,360.36) scale(1.0729,1)">4</text><text x="0" y="0" font-size="9.648" text-anchor="middle" font-family="'Liberation Sans', sans-serif" fill="#1e1e1e" stroke="#1e1e1e" stroke-width="0.18" transform="translate(293.5,360.36) scale(1.0729,1)">6</text><text x="0" y="0" font-size="9.648" text-anchor="middle" font-family="'Liberation Sans', sans-serif" fill="#1e1e1e" stroke="#1e1e1e" stroke-width="0.18" transform="translate(323.32,360.36) scale(1.0729,1)">8</text><text x="0" y="0" font-size="9.774" text-anchor="end" font-family="'Liberation Sans', sans-serif" fill="#1e1e1e" stroke="#1e1e1e" stroke-width="0.18" transform="translate(381.55,223.43) scale(1.0714,1)">−0.42</text><text x="0" y="0" font-size="9.774" text-anchor="end" font-family="'Liberation Sans', sans-serif" fill="#1e1e1e" stroke="#1e1e1e" stroke-width="0.18" transform="translate(381.55,243.4) scale(1.0714,1)">−0.44</text><text x="0" y="0" font-size="9.774" text-anchor="end" font-family="'Liberation Sans', sans-serif" fill="#1e1e1e" stroke="#1e1e1e" stroke-width="0.18" transform="translate(381.55,263.37) scale(1.0714,1)">−0.46</text><text x="0" y="0" font-size="9.774" text-anchor="end" font-family="'Liberation Sans', sans-serif" fill="#1e1e1e" stroke="#1e1e1e" stroke-width="0.18" transform="translate(381.55,283.34) scale(1.0714,1)">−0.48</text><text x="0" y="0" font-size="9.774" text-anchor="end" font-family="'Liberation Sans', sans-serif" fill="#1e1e1e" stroke="#1e1e1e" stroke-width="0.18" transform="translate(381.55,303.31) scale(1.0714,1)">−0.50</text><text x="0" y="0" font-size="9.774" text-anchor="end" font-family="'Liberation Sans', sans-serif" fill="#1e1e1e" stroke="#1e1e1e" stroke-width="0.18" transform="translate(381.55,323.28) scale(1.0714,1)">−0.52</text><text x="0" y="0" font-size="9.774" text-anchor="end" font-family="'Liberation Sans', sans-serif" fill="#1e1e1e" stroke="#1e1e1e" stroke-width="0.18" transform="translate(381.55,343.25) scale(1.0714,1)">−0.54</text><text x="0" y="0" font-size="9.541" text-anchor="middle" font-family="'Liberation Sans', sans-serif" fill="#1e1e1e" stroke="#1e1e1e" stroke-width="0.18" transform="translate(385.26,360.19) scale(1.0928,1)">0</text><text x="0" y="0" font-size="9.541" text-anchor="middle" font-family="'Liberation Sans', sans-serif" fill="#1e1e1e" stroke="#1e1e1e" stroke-width="0.18" transform="translate(415.1,360.19) scale(1.0928,1)">2</text><text x="0" y="0" font-size="9.541" text-anchor="middle" font-family="'Liberation Sans', sans-serif" fill="#1e1e1e" stroke="#1e1e1e" stroke-width="0.18" transform="translate(444.94,360.19) scale(1.0928,1)">4</text><text x="0" y="0" font-size="9.541" text-anchor="middle" font-family="'Liberation Sans', sans-serif" fill="#1e1e1e" stroke="#1e1e1e" stroke-width="0.18" transform="translate(474.78,360.19) scale(1.0928,1)">6</text><text x="0" y="0" font-size="9.541" text-anchor="middle" font-family="'Liberation Sans', sans-serif" fill="#1e1e1e" stroke="#1e1e1e" stroke-width="0.18" transform="translate(504.62,360.19) scale(1.0928,1)">8</text><text x="0" y="0" font-size="14.834" text-anchor="middle" font-family="'Liberation Serif', serif" fill="#1e1e1e" stroke="#1e1e1e" stroke-width="0.04" transform="translate(94.69,11.72) scale(1.0651,1)">(a)</text><text x="0" y="0" font-size="14.368" text-anchor="middle" font-family="'Liberation Serif', serif" fill="#1e1e1e" stroke="#1e1e1e" stroke-width="0.04" transform="translate(272.15,11.64) scale(1.0205,1)">(b)</text><text x="0" y="0" font-size="14.839" text-anchor="middle" font-family="'Liberation Serif', serif" fill="#1e1e1e" stroke="#1e1e1e" stroke-width="0.04" transform="translate(449.35,11.72) scale(0.9965,1)">(c)</text><text x="0" y="0" font-size="14.383" text-anchor="middle" font-family="'Liberation Serif', serif" fill="#1e1e1e" stroke="#1e1e1e" stroke-width="0.04" transform="translate(102.86,211.2) scale(1.0565,1)">(d)</text><text x="0" y="0" font-size="14.389" text-anchor="middle" font-family="'Liberation Serif', serif" fill="#1e1e1e" stroke="#1e1e1e" stroke-width="0.04" transform="translate(269.35,210.3) scale(1.0276,1)">(e)</text><text x="0" y="0" font-size="14.623" text-anchor="middle" font-family="'Liberation Serif', serif" fill="#1e1e1e" stroke="#1e1e1e" stroke-width="0.04" transform="translate(448.83,209.32) scale(1.1163,1)">(f)</text><text x="0" y="0" font-size="7.895" text-anchor="start" font-family="'Liberation Serif', serif" fill="#3a3a3a" font-weight="bold" transform="translate(70.02,26.53) scale(1.0483,1)">mode 1</text><text x="0" y="0" font-size="8.000" text-anchor="start" font-family="'Liberation Serif', serif" fill="#3a3a3a" font-weight="bold" transform="translate(70.02,40.93) scale(1.0612,1)">mode 2</text><text x="0" y="0" font-size="7.755" text-anchor="start" font-family="'Liberation Serif', serif" fill="#3a3a3a" font-weight="bold" transform="translate(250.34,26.95) scale(1.0511,1)">mode 1</text><text x="0" y="0" font-size="7.345" text-anchor="start" font-family="'Liberation Serif', serif" fill="#3a3a3a" font-weight="bold" transform="translate(250.35,40.76) scale(1.1588,1)">mode 2</text><text x="0" y="0" font-size="7.042" text-anchor="middle" font-family="'Liberation Serif', serif" fill="#1e1e1e" stroke="#1e1e1e" stroke-width="0.16" transform="translate(99.46,177.43) scale(1.1387,1)"><tspan font-style="italic">J</tspan> (<tspan font-style="italic">μ</tspan>eV)</text><text x="0" y="0" font-size="6.553" text-anchor="middle" font-family="'Liberation Serif', serif" fill="#1e1e1e" stroke="#1e1e1e" stroke-width="0.16" transform="translate(279.26,175.56) scale(1.2235,1)"><tspan font-style="italic">J</tspan> (<tspan font-style="italic">μ</tspan>eV)</text><text x="0" y="0" font-size="7.540" text-anchor="middle" font-family="'Liberation Serif', serif" fill="#2a2a2a" stroke="#2a2a2a" stroke-width="0.16" transform="translate(11.45,86.71) rotate(-90) scale(1.0843,1)">Re(<tspan font-style="italic">E</tspan>) (<tspan font-style="italic">μ</tspan>eV)</text><text x="0" y="0" font-size="7.680" text-anchor="middle" font-family="'Liberation Serif', serif" fill="#2a2a2a" stroke="#2a2a2a" stroke-width="0.16" transform="translate(186.83,83.77) rotate(-90) scale(1.0868,1)">Im(<tspan font-style="italic">E</tspan>) (<tspan font-style="italic">μ</tspan>eV)</text><text x="0" y="0" font-size="7.506" text-anchor="start" font-family="'Liberation Serif', serif" fill="#1e1e1e" stroke="#1e1e1e" stroke-width="0.16" transform="translate(461.75,49.57) scale(1.2061,1)"><tspan font-style="italic">J</tspan> = −10.0 <tspan font-style="italic">μ</tspan>eV</text><text x="0" y="0" font-size="7.506" text-anchor="start" font-family="'Liberation Serif', serif" fill="#1e1e1e" stroke="#1e1e1e" stroke-width="0.16" transform="translate(461.75,63.65) scale(1.1946,1)"><tspan font-style="italic">J</tspan> = 0.1 <tspan font-style="italic">μ</tspan>eV</text><text x="0" y="0" font-size="7.108" text-anchor="start" font-family="'Liberation Serif', serif" fill="#1e1e1e" stroke="#1e1e1e" stroke-width="0.16" transform="translate(461.75,78.9) scale(1.2614,1)"><tspan font-style="italic">J</tspan> = 3.0 <tspan font-style="italic">μ</tspan>eV</text><text x="0" y="0" font-size="10.083" text-anchor="middle" font-family="'Liberation Serif', serif" fill="#1e1e1e" stroke="#1e1e1e" stroke-width="0.16" transform="translate(361.57,88.03) rotate(-90) scale(1.2514,1)"><tspan font-style="italic">S</tspan><tspan font-size="0.74em" font-style="italic" dy="0.2em">AB</tspan></text><text x="0" y="0" font-size="12.182" text-anchor="middle" font-family="'Liberation Serif', serif" fill="#1e1e1e" stroke="#1e1e1e" stroke-width="0.16" transform="translate(10.18,284.5) rotate(-90) scale(1.3366,1)"><tspan font-style="italic">S</tspan><tspan font-size="0.74em" font-style="italic" dy="0.2em">AB</tspan></text><text x="0" y="0" font-size="10.112" text-anchor="middle" font-family="'Liberation Serif', serif" fill="#1e1e1e" stroke="#1e1e1e" stroke-width="0.16" transform="translate(446.77,179.04) scale(1.0242,1)"><tspan font-style="italic">t</tspan> (ns)</text><text x="0" y="0" font-size="11.788" text-anchor="middle" font-family="'Liberation Serif', serif" fill="#1e1e1e" stroke="#1e1e1e" stroke-width="0.16" transform="translate(104.31,373.38) scale(1.1454,1)"><tspan font-style="italic">t</tspan> (ns)</text><text x="0" y="0" font-size="11.904" text-anchor="middle" font-family="'Liberation Serif', serif" fill="#1e1e1e" stroke="#1e1e1e" stroke-width="0.16" transform="translate(270.2,373.8) scale(1.1132,1)"><tspan font-style="italic">t</tspan> (ns)</text><text x="0" y="0" font-size="11.845" text-anchor="middle" font-family="'Liberation Serif', serif" fill="#1e1e1e" stroke="#1e1e1e" stroke-width="0.16" transform="translate(452.65,373.18) scale(1.1144,1)"><tspan font-style="italic">t</tspan> (ns)</text><text x="0" y="0" font-size="9.005" text-anchor="end" font-family="'Liberation Serif', serif" fill="#3a3a3a" font-weight="bold" transform="translate(161.49,233.69) scale(1.2478,1)"><tspan font-style="italic">J</tspan> = 9.0 <tspan font-style="italic">μ</tspan>eV</text><text x="0" y="0" font-size="9.351" text-anchor="end" font-family="'Liberation Serif', serif" fill="#3a3a3a" font-weight="bold" transform="translate(330.6,232.19) scale(1.1946,1)"><tspan font-style="italic">J</tspan> = 12.2 <tspan font-style="italic">μ</tspan>eV</text><text x="0" y="0" font-size="8.829" text-anchor="end" font-family="'Liberation Serif', serif" fill="#3a3a3a" font-weight="bold" transform="translate(509.83,231.98) scale(1.2445,1)"><tspan font-style="italic">J</tspan> = 16.0 <tspan font-style="italic">μ</tspan>eV</text><text x="0" y="0" font-size="12.640" text-anchor="middle" font-family="'Liberation Serif', serif" fill="#111" stroke="#111" stroke-width="0.16" transform="translate(46.45,148.76) scale(1.0000,1)">I</text><text x="0" y="0" font-size="13.187" text-anchor="middle" font-family="'Liberation Serif', serif" fill="#111" stroke="#111" stroke-width="0.16" transform="translate(139.06,147.21) scale(1.0000,1)">II</text><text x="0" y="0" font-size="12.640" text-anchor="middle" font-family="'Liberation Serif', serif" fill="#111" stroke="#111" stroke-width="0.16" transform="translate(250.1,151.46) scale(1.0000,1)">I</text><text x="0" y="0" font-size="12.447" text-anchor="middle" font-family="'Liberation Serif', serif" fill="#111" stroke="#111" stroke-width="0.16" transform="translate(296.15,150.41) scale(1.0000,1)">II</text></svg>
</body></html>
